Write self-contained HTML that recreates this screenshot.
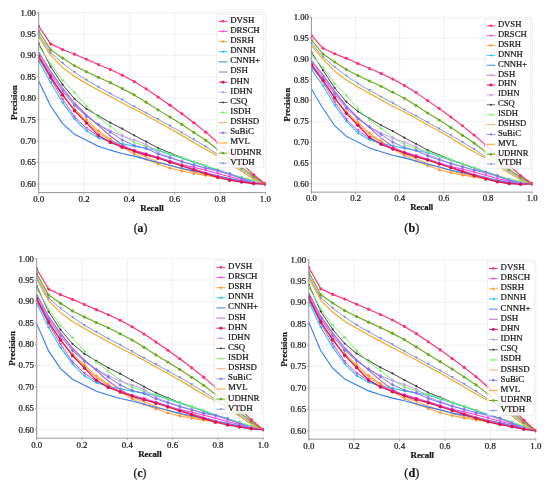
<!DOCTYPE html>
<html><head><meta charset="utf-8"><title>Precision-Recall curves</title>
<style>html,body{margin:0;padding:0;background:#fff}svg{display:block}text{font-family:"Liberation Serif",serif;fill:#111;stroke:#111;stroke-width:0.2px}</style></head><body>
<svg width="550" height="484" viewBox="0 0 550 484">
<rect width="550" height="484" fill="#fff"/>
<g>
<line x1="38.70" y1="12.60" x2="38.70" y2="192.57" stroke="#eaeaea" stroke-width="0.7"/>
<line x1="84.04" y1="12.60" x2="84.04" y2="192.57" stroke="#eaeaea" stroke-width="0.7"/>
<line x1="129.38" y1="12.60" x2="129.38" y2="192.57" stroke="#eaeaea" stroke-width="0.7"/>
<line x1="174.72" y1="12.60" x2="174.72" y2="192.57" stroke="#eaeaea" stroke-width="0.7"/>
<line x1="220.06" y1="12.60" x2="220.06" y2="192.57" stroke="#eaeaea" stroke-width="0.7"/>
<line x1="265.40" y1="12.60" x2="265.40" y2="192.57" stroke="#eaeaea" stroke-width="0.7"/>
<line x1="38.70" y1="184.00" x2="265.40" y2="184.00" stroke="#eaeaea" stroke-width="0.7"/>
<line x1="38.70" y1="162.57" x2="265.40" y2="162.57" stroke="#eaeaea" stroke-width="0.7"/>
<line x1="38.70" y1="141.15" x2="265.40" y2="141.15" stroke="#eaeaea" stroke-width="0.7"/>
<line x1="38.70" y1="119.72" x2="265.40" y2="119.72" stroke="#eaeaea" stroke-width="0.7"/>
<line x1="38.70" y1="98.30" x2="265.40" y2="98.30" stroke="#eaeaea" stroke-width="0.7"/>
<line x1="38.70" y1="76.88" x2="265.40" y2="76.88" stroke="#eaeaea" stroke-width="0.7"/>
<line x1="38.70" y1="55.45" x2="265.40" y2="55.45" stroke="#eaeaea" stroke-width="0.7"/>
<line x1="38.70" y1="34.03" x2="265.40" y2="34.03" stroke="#eaeaea" stroke-width="0.7"/>
<line x1="38.70" y1="12.60" x2="265.40" y2="12.60" stroke="#eaeaea" stroke-width="0.7"/>
<clipPath id="clipa"><rect x="38.50" y="8.60" width="227.20" height="183.97"/></clipPath>
<g clip-path="url(#clipa)">
<polyline points="38.70,57.16 50.63,76.88 62.56,94.01 74.49,110.30 86.43,121.87 98.36,132.58 110.29,140.29 122.22,146.29 134.15,151.86 146.08,157.00 158.02,161.72 169.95,165.57 181.88,169.00 193.81,172.00 205.74,174.57 217.67,176.72 229.61,178.86 241.54,181.00 253.47,182.71 265.40,184.00" fill="none" stroke="#ffa050" stroke-width="1.05" stroke-linejoin="round"/>
<polyline points="38.70,58.45 50.63,77.73 62.56,95.30 74.49,109.01 86.43,119.85 98.36,130.87 110.29,139.22 122.22,147.15 134.15,154.00 146.08,159.36 158.02,163.99 169.95,168.15 181.88,171.14 193.81,173.50 205.74,175.43 217.67,177.36 229.61,179.29 241.54,181.43 253.47,183.14 265.40,184.00" fill="none" stroke="#ff9a2e" stroke-width="1.00" stroke-linejoin="round"/>
<path d="M38.70 56.65L40.50 58.45L38.70 60.25L36.90 58.45Z" fill="#ff9a2e"/>
<path d="M50.63 75.93L52.43 77.73L50.63 79.53L48.83 77.73Z" fill="#ff9a2e"/>
<path d="M62.56 93.50L64.36 95.30L62.56 97.10L60.76 95.30Z" fill="#ff9a2e"/>
<path d="M74.49 107.21L76.29 109.01L74.49 110.81L72.69 109.01Z" fill="#ff9a2e"/>
<path d="M86.43 118.05L88.23 119.85L86.43 121.65L84.63 119.85Z" fill="#ff9a2e"/>
<path d="M98.36 129.07L100.16 130.87L98.36 132.67L96.56 130.87Z" fill="#ff9a2e"/>
<path d="M110.29 137.42L112.09 139.22L110.29 141.02L108.49 139.22Z" fill="#ff9a2e"/>
<path d="M122.22 145.35L124.02 147.15L122.22 148.95L120.42 147.15Z" fill="#ff9a2e"/>
<path d="M134.15 152.20L135.95 154.00L134.15 155.80L132.35 154.00Z" fill="#ff9a2e"/>
<path d="M146.08 157.56L147.88 159.36L146.08 161.16L144.28 159.36Z" fill="#ff9a2e"/>
<path d="M158.02 162.19L159.82 163.99L158.02 165.79L156.22 163.99Z" fill="#ff9a2e"/>
<path d="M169.95 166.35L171.75 168.15L169.95 169.95L168.15 168.15Z" fill="#ff9a2e"/>
<path d="M181.88 169.34L183.68 171.14L181.88 172.94L180.08 171.14Z" fill="#ff9a2e"/>
<path d="M193.81 171.70L195.61 173.50L193.81 175.30L192.01 173.50Z" fill="#ff9a2e"/>
<path d="M205.74 173.63L207.54 175.43L205.74 177.23L203.94 175.43Z" fill="#ff9a2e"/>
<path d="M217.67 175.56L219.47 177.36L217.67 179.16L215.87 177.36Z" fill="#ff9a2e"/>
<path d="M229.61 177.49L231.41 179.29L229.61 181.09L227.81 179.29Z" fill="#ff9a2e"/>
<path d="M241.54 179.63L243.34 181.43L241.54 183.23L239.74 181.43Z" fill="#ff9a2e"/>
<path d="M253.47 181.34L255.27 183.14L253.47 184.94L251.67 183.14Z" fill="#ff9a2e"/>
<path d="M265.40 182.20L267.20 184.00L265.40 185.80L263.60 184.00Z" fill="#ff9a2e"/>
<polyline points="38.70,81.16 50.63,106.01 62.56,123.58 74.49,134.29 86.43,140.29 98.36,146.29 110.29,150.15 122.22,153.58 134.15,156.15 146.08,159.36 158.02,162.57 169.95,165.32 181.88,168.57 193.81,170.89 205.74,173.29 217.67,175.86 229.61,178.43 241.54,181.00 253.47,182.71 265.40,184.00" fill="none" stroke="#2f7bf5" stroke-width="1.10" stroke-linejoin="round"/>
<polyline points="38.70,43.45 50.63,66.59 62.56,84.59 74.49,98.73 86.43,108.80 98.36,115.87 110.29,122.72 122.22,128.72 134.15,135.37 146.08,141.58 158.02,148.01 169.95,152.89 181.88,157.69 193.81,161.89 205.74,166.00 217.67,170.29 229.61,174.27 241.54,178.00 253.47,181.43 265.40,184.00" fill="none" stroke="#3a3a3a" stroke-width="0.95" stroke-linejoin="round"/>
<circle cx="38.70" cy="43.45" r="1.10" fill="#3a3a3a"/>
<circle cx="50.63" cy="66.59" r="1.10" fill="#3a3a3a"/>
<circle cx="62.56" cy="84.59" r="1.10" fill="#3a3a3a"/>
<circle cx="74.49" cy="98.73" r="1.10" fill="#3a3a3a"/>
<circle cx="86.43" cy="108.80" r="1.10" fill="#3a3a3a"/>
<circle cx="98.36" cy="115.87" r="1.10" fill="#3a3a3a"/>
<circle cx="110.29" cy="122.72" r="1.10" fill="#3a3a3a"/>
<circle cx="122.22" cy="128.72" r="1.10" fill="#3a3a3a"/>
<circle cx="134.15" cy="135.37" r="1.10" fill="#3a3a3a"/>
<circle cx="146.08" cy="141.58" r="1.10" fill="#3a3a3a"/>
<circle cx="158.02" cy="148.01" r="1.10" fill="#3a3a3a"/>
<circle cx="169.95" cy="152.89" r="1.10" fill="#3a3a3a"/>
<circle cx="181.88" cy="157.69" r="1.10" fill="#3a3a3a"/>
<circle cx="193.81" cy="161.89" r="1.10" fill="#3a3a3a"/>
<circle cx="205.74" cy="166.00" r="1.10" fill="#3a3a3a"/>
<circle cx="217.67" cy="170.29" r="1.10" fill="#3a3a3a"/>
<circle cx="229.61" cy="174.27" r="1.10" fill="#3a3a3a"/>
<circle cx="241.54" cy="178.00" r="1.10" fill="#3a3a3a"/>
<circle cx="253.47" cy="181.43" r="1.10" fill="#3a3a3a"/>
<circle cx="265.40" cy="184.00" r="1.10" fill="#3a3a3a"/>
<polyline points="38.70,61.02 50.63,82.45 62.56,102.58 74.49,118.87 86.43,130.87 98.36,137.72 110.29,141.58 122.22,143.72 134.15,146.29 146.08,148.43 158.02,150.58 169.95,154.43 181.88,158.29 193.81,162.15 205.74,166.00 217.67,170.29 229.61,174.14 241.54,178.00 253.47,181.43 265.40,184.00" fill="none" stroke="#1fbfff" stroke-width="1.05" stroke-linejoin="round"/>
<path d="M40.06 59.32L40.06 62.72L37.00 61.02Z" fill="#1fbfff"/>
<path d="M51.99 80.75L51.99 84.15L48.93 82.45Z" fill="#1fbfff"/>
<path d="M63.92 100.88L63.92 104.28L60.86 102.58Z" fill="#1fbfff"/>
<path d="M75.85 117.17L75.85 120.57L72.79 118.87Z" fill="#1fbfff"/>
<path d="M87.79 129.17L87.79 132.57L84.73 130.87Z" fill="#1fbfff"/>
<path d="M99.72 136.02L99.72 139.42L96.66 137.72Z" fill="#1fbfff"/>
<path d="M111.65 139.88L111.65 143.28L108.59 141.58Z" fill="#1fbfff"/>
<path d="M123.58 142.02L123.58 145.42L120.52 143.72Z" fill="#1fbfff"/>
<path d="M135.51 144.59L135.51 147.99L132.45 146.29Z" fill="#1fbfff"/>
<path d="M147.44 146.73L147.44 150.13L144.38 148.43Z" fill="#1fbfff"/>
<path d="M159.38 148.88L159.38 152.28L156.32 150.58Z" fill="#1fbfff"/>
<path d="M171.31 152.73L171.31 156.13L168.25 154.43Z" fill="#1fbfff"/>
<path d="M183.24 156.59L183.24 159.99L180.18 158.29Z" fill="#1fbfff"/>
<path d="M195.17 160.45L195.17 163.85L192.11 162.15Z" fill="#1fbfff"/>
<path d="M207.10 164.30L207.10 167.70L204.04 166.00Z" fill="#1fbfff"/>
<path d="M219.03 168.59L219.03 171.99L215.97 170.29Z" fill="#1fbfff"/>
<path d="M230.97 172.44L230.97 175.84L227.91 174.14Z" fill="#1fbfff"/>
<path d="M242.90 176.30L242.90 179.70L239.84 178.00Z" fill="#1fbfff"/>
<path d="M254.83 179.73L254.83 183.13L251.77 181.43Z" fill="#1fbfff"/>
<path d="M266.76 182.30L266.76 185.70L263.70 184.00Z" fill="#1fbfff"/>
<polyline points="38.70,46.02 50.63,64.02 62.56,80.30 74.49,92.52 86.43,106.01 98.36,117.15 110.29,126.15 122.22,135.15 134.15,142.44 146.08,146.29 158.02,149.72 169.95,153.83 181.88,157.69 193.81,161.72 205.74,165.57 217.67,169.86 229.61,173.72 241.54,177.14 253.47,180.57 265.40,184.00" fill="none" stroke="#77ee66" stroke-width="0.95" stroke-linejoin="round"/>
<circle cx="38.70" cy="46.02" r="1.30" fill="#77ee66"/>
<circle cx="50.63" cy="64.02" r="1.30" fill="#77ee66"/>
<circle cx="62.56" cy="80.30" r="1.30" fill="#77ee66"/>
<circle cx="74.49" cy="92.52" r="1.30" fill="#77ee66"/>
<circle cx="86.43" cy="106.01" r="1.30" fill="#77ee66"/>
<circle cx="98.36" cy="117.15" r="1.30" fill="#77ee66"/>
<circle cx="110.29" cy="126.15" r="1.30" fill="#77ee66"/>
<circle cx="122.22" cy="135.15" r="1.30" fill="#77ee66"/>
<circle cx="134.15" cy="142.44" r="1.30" fill="#77ee66"/>
<circle cx="146.08" cy="146.29" r="1.30" fill="#77ee66"/>
<circle cx="158.02" cy="149.72" r="1.30" fill="#77ee66"/>
<circle cx="169.95" cy="153.83" r="1.30" fill="#77ee66"/>
<circle cx="181.88" cy="157.69" r="1.30" fill="#77ee66"/>
<circle cx="193.81" cy="161.72" r="1.30" fill="#77ee66"/>
<circle cx="205.74" cy="165.57" r="1.30" fill="#77ee66"/>
<circle cx="217.67" cy="169.86" r="1.30" fill="#77ee66"/>
<circle cx="229.61" cy="173.72" r="1.30" fill="#77ee66"/>
<circle cx="241.54" cy="177.14" r="1.30" fill="#77ee66"/>
<circle cx="253.47" cy="180.57" r="1.30" fill="#77ee66"/>
<circle cx="265.40" cy="184.00" r="1.30" fill="#77ee66"/>
<polyline points="38.70,57.59 50.63,78.59 62.56,99.16 74.49,116.73 86.43,128.30 98.36,136.01 110.29,141.58 122.22,146.29 134.15,150.15 146.08,153.58 158.02,157.22 169.95,161.08 181.88,164.72 193.81,167.29 205.74,170.29 217.67,173.50 229.61,176.72 241.54,179.72 253.47,182.29 265.40,184.00" fill="none" stroke="#ff33dd" stroke-width="1.00" stroke-linejoin="round"/>
<path d="M37.20 56.39L40.20 56.39L38.70 59.09Z" fill="#ff33dd"/>
<path d="M49.13 77.39L52.13 77.39L50.63 80.09Z" fill="#ff33dd"/>
<path d="M61.06 97.96L64.06 97.96L62.56 100.66Z" fill="#ff33dd"/>
<path d="M72.99 115.53L75.99 115.53L74.49 118.23Z" fill="#ff33dd"/>
<path d="M84.93 127.10L87.93 127.10L86.43 129.80Z" fill="#ff33dd"/>
<path d="M96.86 134.81L99.86 134.81L98.36 137.51Z" fill="#ff33dd"/>
<path d="M108.79 140.38L111.79 140.38L110.29 143.08Z" fill="#ff33dd"/>
<path d="M120.72 145.09L123.72 145.09L122.22 147.79Z" fill="#ff33dd"/>
<path d="M132.65 148.95L135.65 148.95L134.15 151.65Z" fill="#ff33dd"/>
<path d="M144.58 152.38L147.58 152.38L146.08 155.08Z" fill="#ff33dd"/>
<path d="M156.52 156.02L159.52 156.02L158.02 158.72Z" fill="#ff33dd"/>
<path d="M168.45 159.88L171.45 159.88L169.95 162.58Z" fill="#ff33dd"/>
<path d="M180.38 163.52L183.38 163.52L181.88 166.22Z" fill="#ff33dd"/>
<path d="M192.31 166.09L195.31 166.09L193.81 168.79Z" fill="#ff33dd"/>
<path d="M204.24 169.09L207.24 169.09L205.74 171.79Z" fill="#ff33dd"/>
<path d="M216.17 172.30L219.17 172.30L217.67 175.00Z" fill="#ff33dd"/>
<path d="M228.11 175.52L231.11 175.52L229.61 178.22Z" fill="#ff33dd"/>
<path d="M240.04 178.52L243.04 178.52L241.54 181.22Z" fill="#ff33dd"/>
<path d="M251.97 181.09L254.97 181.09L253.47 183.79Z" fill="#ff33dd"/>
<path d="M263.90 182.80L266.90 182.80L265.40 185.50Z" fill="#ff33dd"/>
<polyline points="38.70,53.31 50.63,72.59 62.56,89.30 74.49,104.30 86.43,115.44 98.36,124.44 110.29,130.87 122.22,136.01 134.15,139.99 146.08,144.58 158.02,152.72 169.95,157.00 181.88,161.29 193.81,164.72 205.74,168.15 217.67,171.14 229.61,174.57 241.54,178.43 253.47,182.29 265.40,184.00" fill="none" stroke="#c79bf7" stroke-width="1.00" stroke-linejoin="round"/>
<path d="M38.70 51.51L40.50 53.31L38.70 55.11L36.90 53.31Z" fill="#c79bf7"/>
<path d="M50.63 70.79L52.43 72.59L50.63 74.39L48.83 72.59Z" fill="#c79bf7"/>
<path d="M62.56 87.50L64.36 89.30L62.56 91.10L60.76 89.30Z" fill="#c79bf7"/>
<path d="M74.49 102.50L76.29 104.30L74.49 106.10L72.69 104.30Z" fill="#c79bf7"/>
<path d="M86.43 113.64L88.23 115.44L86.43 117.24L84.63 115.44Z" fill="#c79bf7"/>
<path d="M98.36 122.64L100.16 124.44L98.36 126.24L96.56 124.44Z" fill="#c79bf7"/>
<path d="M110.29 129.07L112.09 130.87L110.29 132.67L108.49 130.87Z" fill="#c79bf7"/>
<path d="M122.22 134.21L124.02 136.01L122.22 137.81L120.42 136.01Z" fill="#c79bf7"/>
<path d="M134.15 138.19L135.95 139.99L134.15 141.79L132.35 139.99Z" fill="#c79bf7"/>
<path d="M146.08 142.78L147.88 144.58L146.08 146.38L144.28 144.58Z" fill="#c79bf7"/>
<path d="M158.02 150.92L159.82 152.72L158.02 154.52L156.22 152.72Z" fill="#c79bf7"/>
<path d="M169.95 155.20L171.75 157.00L169.95 158.80L168.15 157.00Z" fill="#c79bf7"/>
<path d="M181.88 159.49L183.68 161.29L181.88 163.09L180.08 161.29Z" fill="#c79bf7"/>
<path d="M193.81 162.92L195.61 164.72L193.81 166.52L192.01 164.72Z" fill="#c79bf7"/>
<path d="M205.74 166.35L207.54 168.15L205.74 169.95L203.94 168.15Z" fill="#c79bf7"/>
<path d="M217.67 169.34L219.47 171.14L217.67 172.94L215.87 171.14Z" fill="#c79bf7"/>
<path d="M229.61 172.77L231.41 174.57L229.61 176.37L227.81 174.57Z" fill="#c79bf7"/>
<path d="M241.54 176.63L243.34 178.43L241.54 180.23L239.74 178.43Z" fill="#c79bf7"/>
<path d="M253.47 180.49L255.27 182.29L253.47 184.09L251.67 182.29Z" fill="#c79bf7"/>
<path d="M265.40 182.20L267.20 184.00L265.40 185.80L263.60 184.00Z" fill="#c79bf7"/>
<polyline points="38.70,52.02 50.63,71.30 62.56,88.02 74.49,103.01 86.43,115.01 98.36,125.30 110.29,136.01 122.22,144.58 134.15,151.61 146.08,154.86 158.02,157.43 169.95,161.29 181.88,165.15 193.81,169.00 205.74,172.43 217.67,175.86 229.61,179.29 241.54,181.86 253.47,183.57 265.40,184.00" fill="none" stroke="#b060cc" stroke-width="1.10" stroke-linejoin="round"/>
<polyline points="38.70,55.45 50.63,74.30 62.56,91.02 74.49,105.58 86.43,116.30 98.36,124.44 110.29,132.15 122.22,139.99 134.15,145.44 146.08,148.43 158.02,154.00 169.95,157.86 181.88,161.72 193.81,164.97 205.74,168.15 217.67,170.29 229.61,173.72 241.54,178.60 253.47,183.14 265.40,184.00" fill="none" stroke="#7a7af0" stroke-width="1.00" stroke-linejoin="round"/>
<path d="M38.70 53.55L39.55 54.59L40.60 55.45L39.55 56.30L38.70 57.35L37.85 56.30L36.80 55.45L37.85 54.59Z" fill="#7a7af0"/>
<path d="M50.63 72.40L51.49 73.45L52.53 74.30L51.49 75.16L50.63 76.20L49.78 75.16L48.73 74.30L49.78 73.45Z" fill="#7a7af0"/>
<path d="M62.56 89.12L63.42 90.16L64.46 91.02L63.42 91.87L62.56 92.92L61.71 91.87L60.66 91.02L61.71 90.16Z" fill="#7a7af0"/>
<path d="M74.49 103.68L75.35 104.73L76.39 105.58L75.35 106.44L74.49 107.48L73.64 106.44L72.59 105.58L73.64 104.73Z" fill="#7a7af0"/>
<path d="M86.43 114.40L87.28 115.44L88.33 116.30L87.28 117.15L86.43 118.20L85.57 117.15L84.53 116.30L85.57 115.44Z" fill="#7a7af0"/>
<path d="M98.36 122.54L99.21 123.58L100.26 124.44L99.21 125.29L98.36 126.34L97.50 125.29L96.46 124.44L97.50 123.58Z" fill="#7a7af0"/>
<path d="M110.29 130.25L111.14 131.30L112.19 132.15L111.14 133.01L110.29 134.05L109.43 133.01L108.39 132.15L109.43 131.30Z" fill="#7a7af0"/>
<path d="M122.22 138.09L123.08 139.14L124.12 139.99L123.08 140.85L122.22 141.89L121.37 140.85L120.32 139.99L121.37 139.14Z" fill="#7a7af0"/>
<path d="M134.15 143.54L135.01 144.58L136.05 145.44L135.01 146.29L134.15 147.34L133.30 146.29L132.25 145.44L133.30 144.58Z" fill="#7a7af0"/>
<path d="M146.08 146.53L146.94 147.58L147.98 148.43L146.94 149.29L146.08 150.33L145.23 149.29L144.18 148.43L145.23 147.58Z" fill="#7a7af0"/>
<path d="M158.02 152.10L158.87 153.15L159.92 154.00L158.87 154.86L158.02 155.90L157.16 154.86L156.12 154.00L157.16 153.15Z" fill="#7a7af0"/>
<path d="M169.95 155.96L170.80 157.01L171.85 157.86L170.80 158.72L169.95 159.76L169.09 158.72L168.05 157.86L169.09 157.01Z" fill="#7a7af0"/>
<path d="M181.88 159.82L182.73 160.86L183.78 161.72L182.73 162.57L181.88 163.62L181.02 162.57L179.98 161.72L181.02 160.86Z" fill="#7a7af0"/>
<path d="M193.81 163.07L194.67 164.12L195.71 164.97L194.67 165.83L193.81 166.87L192.96 165.83L191.91 164.97L192.96 164.12Z" fill="#7a7af0"/>
<path d="M205.74 166.25L206.60 167.29L207.64 168.15L206.60 169.00L205.74 170.05L204.89 169.00L203.84 168.15L204.89 167.29Z" fill="#7a7af0"/>
<path d="M217.67 168.39L218.53 169.43L219.57 170.29L218.53 171.14L217.67 172.19L216.82 171.14L215.77 170.29L216.82 169.43Z" fill="#7a7af0"/>
<path d="M229.61 171.82L230.46 172.86L231.51 173.72L230.46 174.57L229.61 175.62L228.75 174.57L227.71 173.72L228.75 172.86Z" fill="#7a7af0"/>
<path d="M241.54 176.70L242.39 177.75L243.44 178.60L242.39 179.46L241.54 180.50L240.68 179.46L239.64 178.60L240.68 177.75Z" fill="#7a7af0"/>
<path d="M253.47 181.24L254.32 182.29L255.37 183.14L254.32 184.00L253.47 185.04L252.61 184.00L251.57 183.14L252.61 182.29Z" fill="#7a7af0"/>
<path d="M265.40 182.10L266.25 183.15L267.30 184.00L266.25 184.85L265.40 185.90L264.54 184.85L263.50 184.00L264.54 183.15Z" fill="#7a7af0"/>
<polyline points="38.70,56.31 50.63,76.88 62.56,94.87 74.49,110.73 86.43,122.94 98.36,135.37 110.29,142.44 122.22,147.15 134.15,151.01 146.08,154.86 158.02,158.29 169.95,162.15 181.88,166.00 193.81,169.86 205.74,173.72 217.67,177.36 229.61,180.14 241.54,182.11 253.47,183.57 265.40,184.00" fill="none" stroke="#e0104f" stroke-width="1.15" stroke-linejoin="round"/>
<circle cx="38.70" cy="56.31" r="1.75" fill="#e0104f"/>
<circle cx="50.63" cy="76.88" r="1.75" fill="#e0104f"/>
<circle cx="62.56" cy="94.87" r="1.75" fill="#e0104f"/>
<circle cx="74.49" cy="110.73" r="1.75" fill="#e0104f"/>
<circle cx="86.43" cy="122.94" r="1.75" fill="#e0104f"/>
<circle cx="98.36" cy="135.37" r="1.75" fill="#e0104f"/>
<circle cx="110.29" cy="142.44" r="1.75" fill="#e0104f"/>
<circle cx="122.22" cy="147.15" r="1.75" fill="#e0104f"/>
<circle cx="134.15" cy="151.01" r="1.75" fill="#e0104f"/>
<circle cx="146.08" cy="154.86" r="1.75" fill="#e0104f"/>
<circle cx="158.02" cy="158.29" r="1.75" fill="#e0104f"/>
<circle cx="169.95" cy="162.15" r="1.75" fill="#e0104f"/>
<circle cx="181.88" cy="166.00" r="1.75" fill="#e0104f"/>
<circle cx="193.81" cy="169.86" r="1.75" fill="#e0104f"/>
<circle cx="205.74" cy="173.72" r="1.75" fill="#e0104f"/>
<circle cx="217.67" cy="177.36" r="1.75" fill="#e0104f"/>
<circle cx="229.61" cy="180.14" r="1.75" fill="#e0104f"/>
<circle cx="241.54" cy="182.11" r="1.75" fill="#e0104f"/>
<circle cx="253.47" cy="183.57" r="1.75" fill="#e0104f"/>
<circle cx="265.40" cy="184.00" r="1.75" fill="#e0104f"/>
<polyline points="38.70,36.60 50.63,55.45 62.56,67.45 74.49,76.45 86.43,83.47 98.36,90.16 110.29,96.59 122.22,103.01 134.15,109.01 146.08,115.23 158.02,122.04 169.95,128.42 181.88,135.37 193.81,142.44 205.74,149.51 217.67,156.02 229.61,163.43 241.54,171.14 253.47,178.99 265.40,184.00" fill="none" stroke="#f5a81e" stroke-width="1.20" stroke-linejoin="round"/>
<polyline points="38.70,34.45 50.63,52.88 62.56,63.16 74.49,72.16 86.43,80.05 98.36,86.86 110.29,93.59 122.22,99.76 134.15,106.44 146.08,112.87 158.02,119.30 169.95,125.94 181.88,132.58 193.81,139.44 205.74,146.72 217.67,154.43 229.61,161.72 241.54,169.43 253.47,177.57 265.40,184.00" fill="none" stroke="#7b92d8" stroke-width="0.95" stroke-linejoin="round"/>
<path d="M37.20 33.25L40.20 33.25L38.70 35.95Z" fill="#7b92d8"/>
<path d="M49.13 51.68L52.13 51.68L50.63 54.38Z" fill="#7b92d8"/>
<path d="M61.06 61.96L64.06 61.96L62.56 64.66Z" fill="#7b92d8"/>
<path d="M72.99 70.96L75.99 70.96L74.49 73.66Z" fill="#7b92d8"/>
<path d="M84.93 78.85L87.93 78.85L86.43 81.55Z" fill="#7b92d8"/>
<path d="M96.86 85.66L99.86 85.66L98.36 88.36Z" fill="#7b92d8"/>
<path d="M108.79 92.39L111.79 92.39L110.29 95.09Z" fill="#7b92d8"/>
<path d="M120.72 98.56L123.72 98.56L122.22 101.26Z" fill="#7b92d8"/>
<path d="M132.65 105.24L135.65 105.24L134.15 107.94Z" fill="#7b92d8"/>
<path d="M144.58 111.67L147.58 111.67L146.08 114.37Z" fill="#7b92d8"/>
<path d="M156.52 118.10L159.52 118.10L158.02 120.80Z" fill="#7b92d8"/>
<path d="M168.45 124.74L171.45 124.74L169.95 127.44Z" fill="#7b92d8"/>
<path d="M180.38 131.38L183.38 131.38L181.88 134.08Z" fill="#7b92d8"/>
<path d="M192.31 138.24L195.31 138.24L193.81 140.94Z" fill="#7b92d8"/>
<path d="M204.24 145.52L207.24 145.52L205.74 148.22Z" fill="#7b92d8"/>
<path d="M216.17 153.23L219.17 153.23L217.67 155.93Z" fill="#7b92d8"/>
<path d="M228.11 160.52L231.11 160.52L229.61 163.22Z" fill="#7b92d8"/>
<path d="M240.04 168.23L243.04 168.23L241.54 170.93Z" fill="#7b92d8"/>
<path d="M251.97 176.37L254.97 176.37L253.47 179.07Z" fill="#7b92d8"/>
<path d="M263.90 182.80L266.90 182.80L265.40 185.50Z" fill="#7b92d8"/>
<polyline points="38.70,31.03 50.63,49.88 62.56,58.02 74.49,65.73 86.43,71.73 98.36,77.30 110.29,82.66 122.22,88.57 134.15,94.87 146.08,102.16 158.02,109.87 169.95,116.94 181.88,124.44 193.81,132.37 205.74,140.29 217.67,149.51 229.61,158.29 241.54,167.29 253.47,176.29 265.40,184.00" fill="none" stroke="#6aaa1e" stroke-width="1.15" stroke-linejoin="round"/>
<circle cx="38.70" cy="31.03" r="1.55" fill="#6aaa1e"/>
<circle cx="50.63" cy="49.88" r="1.55" fill="#6aaa1e"/>
<circle cx="62.56" cy="58.02" r="1.55" fill="#6aaa1e"/>
<circle cx="74.49" cy="65.73" r="1.55" fill="#6aaa1e"/>
<circle cx="86.43" cy="71.73" r="1.55" fill="#6aaa1e"/>
<circle cx="98.36" cy="77.30" r="1.55" fill="#6aaa1e"/>
<circle cx="110.29" cy="82.66" r="1.55" fill="#6aaa1e"/>
<circle cx="122.22" cy="88.57" r="1.55" fill="#6aaa1e"/>
<circle cx="134.15" cy="94.87" r="1.55" fill="#6aaa1e"/>
<circle cx="146.08" cy="102.16" r="1.55" fill="#6aaa1e"/>
<circle cx="158.02" cy="109.87" r="1.55" fill="#6aaa1e"/>
<circle cx="169.95" cy="116.94" r="1.55" fill="#6aaa1e"/>
<circle cx="181.88" cy="124.44" r="1.55" fill="#6aaa1e"/>
<circle cx="193.81" cy="132.37" r="1.55" fill="#6aaa1e"/>
<circle cx="205.74" cy="140.29" r="1.55" fill="#6aaa1e"/>
<circle cx="217.67" cy="149.51" r="1.55" fill="#6aaa1e"/>
<circle cx="229.61" cy="158.29" r="1.55" fill="#6aaa1e"/>
<circle cx="241.54" cy="167.29" r="1.55" fill="#6aaa1e"/>
<circle cx="253.47" cy="176.29" r="1.55" fill="#6aaa1e"/>
<circle cx="265.40" cy="184.00" r="1.55" fill="#6aaa1e"/>
<polyline points="38.70,26.31 50.63,43.88 62.56,49.45 74.49,54.16 86.43,59.31 98.36,64.45 110.29,69.59 122.22,75.16 134.15,81.59 146.08,88.87 158.02,97.01 169.95,105.16 181.88,113.73 193.81,122.72 205.74,132.15 217.67,142.44 229.61,153.15 241.54,163.43 253.47,174.57 265.40,184.00" fill="none" stroke="#ff2d78" stroke-width="1.15" stroke-linejoin="round"/>
<circle cx="38.70" cy="26.31" r="1.55" fill="#ff2d78"/>
<circle cx="50.63" cy="43.88" r="1.55" fill="#ff2d78"/>
<circle cx="62.56" cy="49.45" r="1.55" fill="#ff2d78"/>
<circle cx="74.49" cy="54.16" r="1.55" fill="#ff2d78"/>
<circle cx="86.43" cy="59.31" r="1.55" fill="#ff2d78"/>
<circle cx="98.36" cy="64.45" r="1.55" fill="#ff2d78"/>
<circle cx="110.29" cy="69.59" r="1.55" fill="#ff2d78"/>
<circle cx="122.22" cy="75.16" r="1.55" fill="#ff2d78"/>
<circle cx="134.15" cy="81.59" r="1.55" fill="#ff2d78"/>
<circle cx="146.08" cy="88.87" r="1.55" fill="#ff2d78"/>
<circle cx="158.02" cy="97.01" r="1.55" fill="#ff2d78"/>
<circle cx="169.95" cy="105.16" r="1.55" fill="#ff2d78"/>
<circle cx="181.88" cy="113.73" r="1.55" fill="#ff2d78"/>
<circle cx="193.81" cy="122.72" r="1.55" fill="#ff2d78"/>
<circle cx="205.74" cy="132.15" r="1.55" fill="#ff2d78"/>
<circle cx="217.67" cy="142.44" r="1.55" fill="#ff2d78"/>
<circle cx="229.61" cy="153.15" r="1.55" fill="#ff2d78"/>
<circle cx="241.54" cy="163.43" r="1.55" fill="#ff2d78"/>
<circle cx="253.47" cy="174.57" r="1.55" fill="#ff2d78"/>
<circle cx="265.40" cy="184.00" r="1.55" fill="#ff2d78"/>
</g>
<line x1="38.70" y1="12.10" x2="38.70" y2="193.17" stroke="#8c8c8c" stroke-width="0.9"/>
<line x1="38.10" y1="192.57" x2="265.90" y2="192.57" stroke="#8c8c8c" stroke-width="0.9"/>
<line x1="38.70" y1="192.57" x2="38.70" y2="194.37" stroke="#9a9a9a" stroke-width="0.8"/>
<text x="38.70" y="202.17" font-size="8.85" text-anchor="middle">0.0</text>
<line x1="84.04" y1="192.57" x2="84.04" y2="194.37" stroke="#9a9a9a" stroke-width="0.8"/>
<text x="84.04" y="202.17" font-size="8.85" text-anchor="middle">0.2</text>
<line x1="129.38" y1="192.57" x2="129.38" y2="194.37" stroke="#9a9a9a" stroke-width="0.8"/>
<text x="129.38" y="202.17" font-size="8.85" text-anchor="middle">0.4</text>
<line x1="174.72" y1="192.57" x2="174.72" y2="194.37" stroke="#9a9a9a" stroke-width="0.8"/>
<text x="174.72" y="202.17" font-size="8.85" text-anchor="middle">0.6</text>
<line x1="220.06" y1="192.57" x2="220.06" y2="194.37" stroke="#9a9a9a" stroke-width="0.8"/>
<text x="220.06" y="202.17" font-size="8.85" text-anchor="middle">0.8</text>
<line x1="265.40" y1="192.57" x2="265.40" y2="194.37" stroke="#9a9a9a" stroke-width="0.8"/>
<text x="265.40" y="202.17" font-size="8.85" text-anchor="middle">1.0</text>
<line x1="36.90" y1="184.00" x2="38.70" y2="184.00" stroke="#9a9a9a" stroke-width="0.8"/>
<text x="36.00" y="186.90" font-size="8.85" text-anchor="end">0.60</text>
<line x1="36.90" y1="162.57" x2="38.70" y2="162.57" stroke="#9a9a9a" stroke-width="0.8"/>
<text x="36.00" y="165.47" font-size="8.85" text-anchor="end">0.65</text>
<line x1="36.90" y1="141.15" x2="38.70" y2="141.15" stroke="#9a9a9a" stroke-width="0.8"/>
<text x="36.00" y="144.05" font-size="8.85" text-anchor="end">0.70</text>
<line x1="36.90" y1="119.72" x2="38.70" y2="119.72" stroke="#9a9a9a" stroke-width="0.8"/>
<text x="36.00" y="122.62" font-size="8.85" text-anchor="end">0.75</text>
<line x1="36.90" y1="98.30" x2="38.70" y2="98.30" stroke="#9a9a9a" stroke-width="0.8"/>
<text x="36.00" y="101.20" font-size="8.85" text-anchor="end">0.80</text>
<line x1="36.90" y1="76.88" x2="38.70" y2="76.88" stroke="#9a9a9a" stroke-width="0.8"/>
<text x="36.00" y="79.78" font-size="8.85" text-anchor="end">0.85</text>
<line x1="36.90" y1="55.45" x2="38.70" y2="55.45" stroke="#9a9a9a" stroke-width="0.8"/>
<text x="36.00" y="58.35" font-size="8.85" text-anchor="end">0.90</text>
<line x1="36.90" y1="34.03" x2="38.70" y2="34.03" stroke="#9a9a9a" stroke-width="0.8"/>
<text x="36.00" y="36.93" font-size="8.85" text-anchor="end">0.95</text>
<line x1="36.90" y1="12.60" x2="38.70" y2="12.60" stroke="#9a9a9a" stroke-width="0.8"/>
<text x="36.00" y="15.50" font-size="8.85" text-anchor="end">1.00</text>
<text x="152.05" y="211.37" font-size="8.85" font-weight="bold" text-anchor="middle" fill="#111">Recall</text>
<text transform="translate(17.10,102.59) rotate(-90)" font-size="8.85" font-weight="bold" text-anchor="middle" fill="#111">Precision</text>
<rect x="216.90" y="14.40" width="46.70" height="153.40" fill="#fff" fill-opacity="0.84" stroke="#e4e4e4" stroke-width="0.6"/>
<line x1="218.60" y1="21.30" x2="227.40" y2="21.30" stroke="#ff2d78" stroke-width="0.98"/>
<circle cx="223.00" cy="21.30" r="1.32" fill="#ff2d78"/>
<text x="230.20" y="22.75" font-size="8.85">DVSH</text>
<line x1="218.60" y1="31.44" x2="227.40" y2="31.44" stroke="#ff33dd" stroke-width="0.85"/>
<path d="M221.72 30.42L224.28 30.42L223.00 32.71Z" fill="#ff33dd"/>
<text x="230.20" y="32.89" font-size="8.85">DRSCH</text>
<line x1="218.60" y1="41.58" x2="227.40" y2="41.58" stroke="#ff9a2e" stroke-width="0.85"/>
<path d="M223.00 40.05L224.53 41.58L223.00 43.11L221.47 41.58Z" fill="#ff9a2e"/>
<text x="230.20" y="43.03" font-size="8.85">DSRH</text>
<line x1="218.60" y1="51.72" x2="227.40" y2="51.72" stroke="#1fbfff" stroke-width="0.89"/>
<path d="M224.16 50.28L224.16 53.17L221.56 51.72Z" fill="#1fbfff"/>
<text x="230.20" y="53.17" font-size="8.85">DNNH</text>
<line x1="218.60" y1="61.86" x2="227.40" y2="61.86" stroke="#2f7bf5" stroke-width="0.94"/>
<text x="230.20" y="63.31" font-size="8.85">CNNH+</text>
<line x1="218.60" y1="72.00" x2="227.40" y2="72.00" stroke="#b060cc" stroke-width="0.94"/>
<text x="230.20" y="73.45" font-size="8.85">DSH</text>
<line x1="218.60" y1="82.14" x2="227.40" y2="82.14" stroke="#e0104f" stroke-width="0.98"/>
<circle cx="223.00" cy="82.14" r="1.49" fill="#e0104f"/>
<text x="230.20" y="83.59" font-size="8.85">DHN</text>
<line x1="218.60" y1="92.28" x2="227.40" y2="92.28" stroke="#c79bf7" stroke-width="0.85"/>
<path d="M223.00 90.75L224.53 92.28L223.00 93.81L221.47 92.28Z" fill="#c79bf7"/>
<text x="230.20" y="93.73" font-size="8.85">IDHN</text>
<line x1="218.60" y1="102.42" x2="227.40" y2="102.42" stroke="#3a3a3a" stroke-width="0.81"/>
<circle cx="223.00" cy="102.42" r="0.94" fill="#3a3a3a"/>
<text x="230.20" y="103.87" font-size="8.85">CSQ</text>
<line x1="218.60" y1="112.56" x2="227.40" y2="112.56" stroke="#77ee66" stroke-width="0.81"/>
<circle cx="223.00" cy="112.56" r="1.10" fill="#77ee66"/>
<text x="230.20" y="114.01" font-size="8.85">ISDH</text>
<line x1="218.60" y1="122.70" x2="227.40" y2="122.70" stroke="#ffa050" stroke-width="0.89"/>
<text x="230.20" y="124.15" font-size="8.85">DSHSD</text>
<line x1="218.60" y1="132.84" x2="227.40" y2="132.84" stroke="#7a7af0" stroke-width="0.85"/>
<path d="M223.00 131.22L223.73 132.11L224.62 132.84L223.73 133.57L223.00 134.46L222.27 133.57L221.38 132.84L222.27 132.11Z" fill="#7a7af0"/>
<text x="230.20" y="134.29" font-size="8.85">SuBiC</text>
<line x1="218.60" y1="142.98" x2="227.40" y2="142.98" stroke="#f5a81e" stroke-width="1.02"/>
<text x="230.20" y="144.43" font-size="8.85">MVL</text>
<line x1="218.60" y1="153.12" x2="227.40" y2="153.12" stroke="#6aaa1e" stroke-width="0.98"/>
<circle cx="223.00" cy="153.12" r="1.32" fill="#6aaa1e"/>
<text x="230.20" y="154.57" font-size="8.85">UDHNR</text>
<line x1="218.60" y1="163.26" x2="227.40" y2="163.26" stroke="#7b92d8" stroke-width="0.81"/>
<path d="M221.72 162.24L224.28 162.24L223.00 164.53Z" fill="#7b92d8"/>
<text x="230.20" y="164.71" font-size="8.85">VTDH</text>
<text x="140.50" y="231.80" font-size="11.6" text-anchor="middle" fill="#111">(<tspan font-weight="bold">a</tspan>)</text>
</g>
<g>
<line x1="311.40" y1="17.30" x2="311.40" y2="192.13" stroke="#eaeaea" stroke-width="0.7"/>
<line x1="355.56" y1="17.30" x2="355.56" y2="192.13" stroke="#eaeaea" stroke-width="0.7"/>
<line x1="399.72" y1="17.30" x2="399.72" y2="192.13" stroke="#eaeaea" stroke-width="0.7"/>
<line x1="443.88" y1="17.30" x2="443.88" y2="192.13" stroke="#eaeaea" stroke-width="0.7"/>
<line x1="488.04" y1="17.30" x2="488.04" y2="192.13" stroke="#eaeaea" stroke-width="0.7"/>
<line x1="532.20" y1="17.30" x2="532.20" y2="192.13" stroke="#eaeaea" stroke-width="0.7"/>
<line x1="311.40" y1="183.80" x2="532.20" y2="183.80" stroke="#eaeaea" stroke-width="0.7"/>
<line x1="311.40" y1="162.99" x2="532.20" y2="162.99" stroke="#eaeaea" stroke-width="0.7"/>
<line x1="311.40" y1="142.18" x2="532.20" y2="142.18" stroke="#eaeaea" stroke-width="0.7"/>
<line x1="311.40" y1="121.36" x2="532.20" y2="121.36" stroke="#eaeaea" stroke-width="0.7"/>
<line x1="311.40" y1="100.55" x2="532.20" y2="100.55" stroke="#eaeaea" stroke-width="0.7"/>
<line x1="311.40" y1="79.74" x2="532.20" y2="79.74" stroke="#eaeaea" stroke-width="0.7"/>
<line x1="311.40" y1="58.92" x2="532.20" y2="58.92" stroke="#eaeaea" stroke-width="0.7"/>
<line x1="311.40" y1="38.11" x2="532.20" y2="38.11" stroke="#eaeaea" stroke-width="0.7"/>
<line x1="311.40" y1="17.30" x2="532.20" y2="17.30" stroke="#eaeaea" stroke-width="0.7"/>
<clipPath id="clipb"><rect x="311.20" y="13.30" width="221.30" height="178.83"/></clipPath>
<g clip-path="url(#clipb)">
<polyline points="311.40,65.58 323.02,80.24 334.64,96.98 346.26,112.88 357.88,124.21 369.51,134.70 381.13,142.28 392.75,148.20 404.37,153.70 415.99,158.78 427.61,163.45 439.23,167.28 450.85,170.70 462.47,173.70 474.09,176.29 485.72,178.45 497.34,180.62 508.96,182.56 520.58,183.43 532.20,183.80" fill="none" stroke="#ffa050" stroke-width="1.02" stroke-linejoin="round"/>
<polyline points="311.40,66.83 323.02,81.07 334.64,98.23 346.26,111.64 357.88,122.25 369.51,133.04 381.13,141.24 392.75,149.03 404.37,155.78 415.99,161.07 427.61,165.65 439.23,169.78 450.85,172.78 462.47,175.16 474.09,177.12 485.72,179.08 497.34,181.04 508.96,182.97 520.58,183.84 532.20,183.80" fill="none" stroke="#ff9a2e" stroke-width="0.97" stroke-linejoin="round"/>
<path d="M311.40 65.08L313.15 66.83L311.40 68.59L309.65 66.83Z" fill="#ff9a2e"/>
<path d="M323.02 79.32L324.77 81.07L323.02 82.83L321.27 81.07Z" fill="#ff9a2e"/>
<path d="M334.64 96.47L336.40 98.23L334.64 99.98L332.89 98.23Z" fill="#ff9a2e"/>
<path d="M346.26 109.88L348.02 111.64L346.26 113.39L344.51 111.64Z" fill="#ff9a2e"/>
<path d="M357.88 120.50L359.64 122.25L357.88 124.01L356.13 122.25Z" fill="#ff9a2e"/>
<path d="M369.51 131.29L371.26 133.04L369.51 134.79L367.75 133.04Z" fill="#ff9a2e"/>
<path d="M381.13 139.49L382.88 141.24L381.13 143.00L379.37 141.24Z" fill="#ff9a2e"/>
<path d="M392.75 147.28L394.50 149.03L392.75 150.79L390.99 149.03Z" fill="#ff9a2e"/>
<path d="M404.37 154.03L406.12 155.78L404.37 157.53L402.62 155.78Z" fill="#ff9a2e"/>
<path d="M415.99 159.32L417.74 161.07L415.99 162.82L414.24 161.07Z" fill="#ff9a2e"/>
<path d="M427.61 163.90L429.36 165.65L427.61 167.41L425.86 165.65Z" fill="#ff9a2e"/>
<path d="M439.23 168.03L440.98 169.78L439.23 171.53L437.48 169.78Z" fill="#ff9a2e"/>
<path d="M450.85 171.03L452.61 172.78L450.85 174.53L449.10 172.78Z" fill="#ff9a2e"/>
<path d="M462.47 173.40L464.23 175.16L462.47 176.91L460.72 175.16Z" fill="#ff9a2e"/>
<path d="M474.09 175.36L475.85 177.12L474.09 178.87L472.34 177.12Z" fill="#ff9a2e"/>
<path d="M485.72 177.33L487.47 179.08L485.72 180.83L483.96 179.08Z" fill="#ff9a2e"/>
<path d="M497.34 179.29L499.09 181.04L497.34 182.79L495.58 181.04Z" fill="#ff9a2e"/>
<path d="M508.96 181.22L510.71 182.97L508.96 184.73L507.20 182.97Z" fill="#ff9a2e"/>
<path d="M520.58 182.09L522.33 183.84L520.58 185.60L518.83 183.84Z" fill="#ff9a2e"/>
<path d="M532.20 182.05L533.95 183.80L532.20 185.55L530.45 183.80Z" fill="#ff9a2e"/>
<polyline points="311.40,88.90 323.02,108.55 334.64,125.70 346.26,136.19 357.88,142.11 369.51,148.02 381.13,151.86 392.75,155.28 404.37,157.86 415.99,161.07 427.61,164.28 439.23,167.03 450.85,170.28 462.47,172.62 474.09,175.04 485.72,177.62 497.34,180.21 508.96,182.56 520.58,183.43 532.20,183.80" fill="none" stroke="#2f7bf5" stroke-width="1.07" stroke-linejoin="round"/>
<polyline points="311.40,52.26 323.02,70.25 334.64,87.82 346.26,101.65 357.88,111.51 369.51,118.47 381.13,125.22 392.75,131.13 404.37,137.67 415.99,143.80 427.61,150.13 439.23,154.96 450.85,159.71 462.47,163.88 474.09,167.96 485.72,172.21 497.34,176.17 508.96,179.64 520.58,182.18 532.20,183.80" fill="none" stroke="#3a3a3a" stroke-width="0.93" stroke-linejoin="round"/>
<circle cx="311.40" cy="52.26" r="1.07" fill="#3a3a3a"/>
<circle cx="323.02" cy="70.25" r="1.07" fill="#3a3a3a"/>
<circle cx="334.64" cy="87.82" r="1.07" fill="#3a3a3a"/>
<circle cx="346.26" cy="101.65" r="1.07" fill="#3a3a3a"/>
<circle cx="357.88" cy="111.51" r="1.07" fill="#3a3a3a"/>
<circle cx="369.51" cy="118.47" r="1.07" fill="#3a3a3a"/>
<circle cx="381.13" cy="125.22" r="1.07" fill="#3a3a3a"/>
<circle cx="392.75" cy="131.13" r="1.07" fill="#3a3a3a"/>
<circle cx="404.37" cy="137.67" r="1.07" fill="#3a3a3a"/>
<circle cx="415.99" cy="143.80" r="1.07" fill="#3a3a3a"/>
<circle cx="427.61" cy="150.13" r="1.07" fill="#3a3a3a"/>
<circle cx="439.23" cy="154.96" r="1.07" fill="#3a3a3a"/>
<circle cx="450.85" cy="159.71" r="1.07" fill="#3a3a3a"/>
<circle cx="462.47" cy="163.88" r="1.07" fill="#3a3a3a"/>
<circle cx="474.09" cy="167.96" r="1.07" fill="#3a3a3a"/>
<circle cx="485.72" cy="172.21" r="1.07" fill="#3a3a3a"/>
<circle cx="497.34" cy="176.17" r="1.07" fill="#3a3a3a"/>
<circle cx="508.96" cy="179.64" r="1.07" fill="#3a3a3a"/>
<circle cx="520.58" cy="182.18" r="1.07" fill="#3a3a3a"/>
<circle cx="532.20" cy="183.80" r="1.07" fill="#3a3a3a"/>
<polyline points="311.40,69.33 323.02,85.65 334.64,105.30 346.26,121.21 357.88,132.95 369.51,139.70 381.13,143.53 392.75,145.70 404.37,148.29 415.99,150.46 427.61,152.63 439.23,156.46 450.85,160.29 462.47,164.13 474.09,167.96 485.72,172.21 497.34,176.04 508.96,179.64 520.58,182.18 532.20,183.80" fill="none" stroke="#1fbfff" stroke-width="1.02" stroke-linejoin="round"/>
<path d="M312.72 67.68L312.72 70.99L309.74 69.33Z" fill="#1fbfff"/>
<path d="M324.35 84.00L324.35 87.31L321.37 85.65Z" fill="#1fbfff"/>
<path d="M335.97 103.65L335.97 106.96L332.99 105.30Z" fill="#1fbfff"/>
<path d="M347.59 119.55L347.59 122.86L344.61 121.21Z" fill="#1fbfff"/>
<path d="M359.21 131.30L359.21 134.61L356.23 132.95Z" fill="#1fbfff"/>
<path d="M370.83 138.04L370.83 141.36L367.85 139.70Z" fill="#1fbfff"/>
<path d="M382.45 141.88L382.45 145.19L379.47 143.53Z" fill="#1fbfff"/>
<path d="M394.07 144.05L394.07 147.36L391.09 145.70Z" fill="#1fbfff"/>
<path d="M405.69 146.63L405.69 149.94L402.71 148.29Z" fill="#1fbfff"/>
<path d="M417.31 148.80L417.31 152.11L414.33 150.46Z" fill="#1fbfff"/>
<path d="M428.94 150.97L428.94 154.28L425.95 152.63Z" fill="#1fbfff"/>
<path d="M440.56 154.80L440.56 158.11L437.58 156.46Z" fill="#1fbfff"/>
<path d="M452.18 158.64L452.18 161.95L449.20 160.29Z" fill="#1fbfff"/>
<path d="M463.80 162.47L463.80 165.78L460.82 164.13Z" fill="#1fbfff"/>
<path d="M475.42 166.30L475.42 169.62L472.44 167.96Z" fill="#1fbfff"/>
<path d="M487.04 170.55L487.04 173.87L484.06 172.21Z" fill="#1fbfff"/>
<path d="M498.66 174.39L498.66 177.70L495.68 176.04Z" fill="#1fbfff"/>
<path d="M510.28 177.99L510.28 181.30L507.30 179.64Z" fill="#1fbfff"/>
<path d="M521.90 180.52L521.90 183.83L518.92 182.18Z" fill="#1fbfff"/>
<path d="M533.52 182.14L533.52 185.46L530.54 183.80Z" fill="#1fbfff"/>
<polyline points="311.40,54.76 323.02,67.75 334.64,83.66 346.26,95.61 357.88,108.81 369.51,119.72 381.13,128.55 392.75,137.38 404.37,144.54 415.99,148.37 427.61,151.79 439.23,155.88 450.85,159.71 462.47,163.71 474.09,167.54 485.72,171.79 497.34,175.63 508.96,178.81 520.58,181.34 532.20,183.80" fill="none" stroke="#77ee66" stroke-width="0.93" stroke-linejoin="round"/>
<circle cx="311.40" cy="54.76" r="1.27" fill="#77ee66"/>
<circle cx="323.02" cy="67.75" r="1.27" fill="#77ee66"/>
<circle cx="334.64" cy="83.66" r="1.27" fill="#77ee66"/>
<circle cx="346.26" cy="95.61" r="1.27" fill="#77ee66"/>
<circle cx="357.88" cy="108.81" r="1.27" fill="#77ee66"/>
<circle cx="369.51" cy="119.72" r="1.27" fill="#77ee66"/>
<circle cx="381.13" cy="128.55" r="1.27" fill="#77ee66"/>
<circle cx="392.75" cy="137.38" r="1.27" fill="#77ee66"/>
<circle cx="404.37" cy="144.54" r="1.27" fill="#77ee66"/>
<circle cx="415.99" cy="148.37" r="1.27" fill="#77ee66"/>
<circle cx="427.61" cy="151.79" r="1.27" fill="#77ee66"/>
<circle cx="439.23" cy="155.88" r="1.27" fill="#77ee66"/>
<circle cx="450.85" cy="159.71" r="1.27" fill="#77ee66"/>
<circle cx="462.47" cy="163.71" r="1.27" fill="#77ee66"/>
<circle cx="474.09" cy="167.54" r="1.27" fill="#77ee66"/>
<circle cx="485.72" cy="171.79" r="1.27" fill="#77ee66"/>
<circle cx="497.34" cy="175.63" r="1.27" fill="#77ee66"/>
<circle cx="508.96" cy="178.81" r="1.27" fill="#77ee66"/>
<circle cx="520.58" cy="181.34" r="1.27" fill="#77ee66"/>
<circle cx="532.20" cy="183.80" r="1.27" fill="#77ee66"/>
<polyline points="311.40,66.00 323.02,81.91 334.64,101.97 346.26,119.13 357.88,130.45 369.51,138.03 381.13,143.53 392.75,148.20 404.37,152.03 415.99,155.45 427.61,159.08 439.23,162.91 450.85,166.54 462.47,169.12 474.09,172.12 485.72,175.33 497.34,178.54 508.96,181.31 520.58,183.01 532.20,183.80" fill="none" stroke="#ff33dd" stroke-width="0.97" stroke-linejoin="round"/>
<path d="M309.94 64.83L312.86 64.83L311.40 67.46Z" fill="#ff33dd"/>
<path d="M321.56 80.74L324.48 80.74L323.02 83.37Z" fill="#ff33dd"/>
<path d="M333.18 100.81L336.10 100.81L334.64 103.43Z" fill="#ff33dd"/>
<path d="M344.80 117.96L347.72 117.96L346.26 120.59Z" fill="#ff33dd"/>
<path d="M356.42 129.29L359.35 129.29L357.88 131.92Z" fill="#ff33dd"/>
<path d="M368.04 136.87L370.97 136.87L369.51 139.50Z" fill="#ff33dd"/>
<path d="M379.67 142.36L382.59 142.36L381.13 144.99Z" fill="#ff33dd"/>
<path d="M391.29 147.03L394.21 147.03L392.75 149.66Z" fill="#ff33dd"/>
<path d="M402.91 150.86L405.83 150.86L404.37 153.49Z" fill="#ff33dd"/>
<path d="M414.53 154.28L417.45 154.28L415.99 156.91Z" fill="#ff33dd"/>
<path d="M426.15 157.91L429.07 157.91L427.61 160.54Z" fill="#ff33dd"/>
<path d="M437.77 161.74L440.69 161.74L439.23 164.37Z" fill="#ff33dd"/>
<path d="M449.39 165.37L452.31 165.37L450.85 168.00Z" fill="#ff33dd"/>
<path d="M461.01 167.95L463.93 167.95L462.47 170.58Z" fill="#ff33dd"/>
<path d="M472.63 170.95L475.56 170.95L474.09 173.58Z" fill="#ff33dd"/>
<path d="M484.25 174.16L487.18 174.16L485.72 176.79Z" fill="#ff33dd"/>
<path d="M495.88 177.37L498.80 177.37L497.34 180.00Z" fill="#ff33dd"/>
<path d="M507.50 180.14L510.42 180.14L508.96 182.77Z" fill="#ff33dd"/>
<path d="M519.12 181.84L522.04 181.84L520.58 184.47Z" fill="#ff33dd"/>
<path d="M530.74 182.63L533.66 182.63L532.20 185.26Z" fill="#ff33dd"/>
<polyline points="311.40,61.84 323.02,76.08 334.64,92.40 346.26,107.06 357.88,117.97 369.51,126.80 381.13,133.13 392.75,138.21 404.37,142.17 415.99,146.71 427.61,154.71 439.23,158.96 450.85,163.21 462.47,166.62 474.09,170.04 485.72,173.04 497.34,176.46 508.96,180.06 520.58,183.01 532.20,183.80" fill="none" stroke="#c79bf7" stroke-width="0.97" stroke-linejoin="round"/>
<path d="M311.40 60.09L313.15 61.84L311.40 63.59L309.65 61.84Z" fill="#c79bf7"/>
<path d="M323.02 74.33L324.77 76.08L323.02 77.83L321.27 76.08Z" fill="#c79bf7"/>
<path d="M334.64 90.65L336.40 92.40L334.64 94.15L332.89 92.40Z" fill="#c79bf7"/>
<path d="M346.26 105.30L348.02 107.06L346.26 108.81L344.51 107.06Z" fill="#c79bf7"/>
<path d="M357.88 116.21L359.64 117.97L357.88 119.72L356.13 117.97Z" fill="#c79bf7"/>
<path d="M369.51 125.04L371.26 126.80L369.51 128.55L367.75 126.80Z" fill="#c79bf7"/>
<path d="M381.13 131.37L382.88 133.13L381.13 134.88L379.37 133.13Z" fill="#c79bf7"/>
<path d="M392.75 136.46L394.50 138.21L392.75 139.96L390.99 138.21Z" fill="#c79bf7"/>
<path d="M404.37 140.42L406.12 142.17L404.37 143.92L402.62 142.17Z" fill="#c79bf7"/>
<path d="M415.99 144.96L417.74 146.71L415.99 148.46L414.24 146.71Z" fill="#c79bf7"/>
<path d="M427.61 152.95L429.36 154.71L427.61 156.46L425.86 154.71Z" fill="#c79bf7"/>
<path d="M439.23 157.20L440.98 158.96L439.23 160.71L437.48 158.96Z" fill="#c79bf7"/>
<path d="M450.85 161.45L452.61 163.21L450.85 164.96L449.10 163.21Z" fill="#c79bf7"/>
<path d="M462.47 164.87L464.23 166.62L462.47 168.38L460.72 166.62Z" fill="#c79bf7"/>
<path d="M474.09 168.29L475.85 170.04L474.09 171.79L472.34 170.04Z" fill="#c79bf7"/>
<path d="M485.72 171.29L487.47 173.04L485.72 174.80L483.96 173.04Z" fill="#c79bf7"/>
<path d="M497.34 174.71L499.09 176.46L497.34 178.21L495.58 176.46Z" fill="#c79bf7"/>
<path d="M508.96 178.31L510.71 180.06L508.96 181.81L507.20 180.06Z" fill="#c79bf7"/>
<path d="M520.58 181.26L522.33 183.01L520.58 184.76L518.83 183.01Z" fill="#c79bf7"/>
<path d="M532.20 182.05L533.95 183.80L532.20 185.55L530.45 183.80Z" fill="#c79bf7"/>
<polyline points="311.40,60.59 323.02,74.83 334.64,91.15 346.26,105.81 357.88,117.55 369.51,127.63 381.13,138.12 392.75,146.53 404.37,153.45 415.99,156.70 427.61,159.29 439.23,163.12 450.85,166.95 462.47,170.79 474.09,174.20 485.72,177.62 497.34,181.04 508.96,183.39 520.58,184.26 532.20,183.80" fill="none" stroke="#b060cc" stroke-width="1.07" stroke-linejoin="round"/>
<polyline points="311.40,63.92 323.02,77.74 334.64,94.07 346.26,108.31 357.88,118.80 369.51,126.80 381.13,134.38 392.75,142.08 404.37,147.45 415.99,150.46 427.61,155.96 439.23,159.79 450.85,163.62 462.47,166.87 474.09,170.04 485.72,172.21 497.34,175.63 508.96,180.23 520.58,183.84 532.20,183.80" fill="none" stroke="#7a7af0" stroke-width="0.97" stroke-linejoin="round"/>
<path d="M311.40 62.07L312.23 63.09L313.25 63.92L312.23 64.75L311.40 65.77L310.57 64.75L309.55 63.92L310.57 63.09Z" fill="#7a7af0"/>
<path d="M323.02 75.89L323.85 76.91L324.87 77.74L323.85 78.58L323.02 79.59L322.19 78.58L321.17 77.74L322.19 76.91Z" fill="#7a7af0"/>
<path d="M334.64 92.21L335.47 93.23L336.49 94.07L335.47 94.90L334.64 95.92L333.81 94.90L332.79 94.07L333.81 93.23Z" fill="#7a7af0"/>
<path d="M346.26 106.45L347.10 107.47L348.11 108.31L347.10 109.14L346.26 110.16L345.43 109.14L344.41 108.31L345.43 107.47Z" fill="#7a7af0"/>
<path d="M357.88 116.95L358.72 117.97L359.73 118.80L358.72 119.63L357.88 120.65L357.05 119.63L356.03 118.80L357.05 117.97Z" fill="#7a7af0"/>
<path d="M369.51 124.95L370.34 125.96L371.36 126.80L370.34 127.63L369.51 128.65L368.67 127.63L367.65 126.80L368.67 125.96Z" fill="#7a7af0"/>
<path d="M381.13 132.53L381.96 133.54L382.98 134.38L381.96 135.21L381.13 136.23L380.29 135.21L379.28 134.38L380.29 133.54Z" fill="#7a7af0"/>
<path d="M392.75 140.23L393.58 141.25L394.60 142.08L393.58 142.91L392.75 143.93L391.91 142.91L390.90 142.08L391.91 141.25Z" fill="#7a7af0"/>
<path d="M404.37 145.60L405.20 146.62L406.22 147.45L405.20 148.29L404.37 149.31L403.54 148.29L402.52 147.45L403.54 146.62Z" fill="#7a7af0"/>
<path d="M415.99 148.61L416.82 149.62L417.84 150.46L416.82 151.29L415.99 152.31L415.16 151.29L414.14 150.46L415.16 149.62Z" fill="#7a7af0"/>
<path d="M427.61 154.10L428.44 155.12L429.46 155.96L428.44 156.79L427.61 157.81L426.78 156.79L425.76 155.96L426.78 155.12Z" fill="#7a7af0"/>
<path d="M439.23 157.94L440.06 158.96L441.08 159.79L440.06 160.62L439.23 161.64L438.40 160.62L437.38 159.79L438.40 158.96Z" fill="#7a7af0"/>
<path d="M450.85 161.77L451.69 162.79L452.70 163.62L451.69 164.46L450.85 165.47L450.02 164.46L449.00 163.62L450.02 162.79Z" fill="#7a7af0"/>
<path d="M462.47 165.02L463.31 166.04L464.32 166.87L463.31 167.71L462.47 168.72L461.64 167.71L460.62 166.87L461.64 166.04Z" fill="#7a7af0"/>
<path d="M474.09 168.19L474.93 169.21L475.95 170.04L474.93 170.87L474.09 171.89L473.26 170.87L472.24 170.04L473.26 169.21Z" fill="#7a7af0"/>
<path d="M485.72 170.36L486.55 171.38L487.57 172.21L486.55 173.04L485.72 174.06L484.88 173.04L483.87 172.21L484.88 171.38Z" fill="#7a7af0"/>
<path d="M497.34 173.78L498.17 174.80L499.19 175.63L498.17 176.46L497.34 177.48L496.50 176.46L495.49 175.63L496.50 174.80Z" fill="#7a7af0"/>
<path d="M508.96 178.38L509.79 179.39L510.81 180.23L509.79 181.06L508.96 182.08L508.13 181.06L507.11 180.23L508.13 179.39Z" fill="#7a7af0"/>
<path d="M520.58 181.99L521.41 183.01L522.43 183.84L521.41 184.67L520.58 185.69L519.75 184.67L518.73 183.84L519.75 183.01Z" fill="#7a7af0"/>
<path d="M532.20 181.95L533.03 182.97L534.05 183.80L533.03 184.63L532.20 185.65L531.37 184.63L530.35 183.80L531.37 182.97Z" fill="#7a7af0"/>
<polyline points="311.40,64.75 323.02,80.24 334.64,97.81 346.26,113.30 357.88,125.25 369.51,137.41 381.13,144.37 392.75,149.03 404.37,152.87 415.99,156.70 427.61,160.12 439.23,163.95 450.85,167.79 462.47,171.62 474.09,175.45 485.72,179.08 497.34,181.87 508.96,183.64 520.58,184.26 532.20,183.80" fill="none" stroke="#e0104f" stroke-width="1.12" stroke-linejoin="round"/>
<circle cx="311.40" cy="64.75" r="1.70" fill="#e0104f"/>
<circle cx="323.02" cy="80.24" r="1.70" fill="#e0104f"/>
<circle cx="334.64" cy="97.81" r="1.70" fill="#e0104f"/>
<circle cx="346.26" cy="113.30" r="1.70" fill="#e0104f"/>
<circle cx="357.88" cy="125.25" r="1.70" fill="#e0104f"/>
<circle cx="369.51" cy="137.41" r="1.70" fill="#e0104f"/>
<circle cx="381.13" cy="144.37" r="1.70" fill="#e0104f"/>
<circle cx="392.75" cy="149.03" r="1.70" fill="#e0104f"/>
<circle cx="404.37" cy="152.87" r="1.70" fill="#e0104f"/>
<circle cx="415.99" cy="156.70" r="1.70" fill="#e0104f"/>
<circle cx="427.61" cy="160.12" r="1.70" fill="#e0104f"/>
<circle cx="439.23" cy="163.95" r="1.70" fill="#e0104f"/>
<circle cx="450.85" cy="167.79" r="1.70" fill="#e0104f"/>
<circle cx="462.47" cy="171.62" r="1.70" fill="#e0104f"/>
<circle cx="474.09" cy="175.45" r="1.70" fill="#e0104f"/>
<circle cx="485.72" cy="179.08" r="1.70" fill="#e0104f"/>
<circle cx="497.34" cy="181.87" r="1.70" fill="#e0104f"/>
<circle cx="508.96" cy="183.64" r="1.70" fill="#e0104f"/>
<circle cx="520.58" cy="184.26" r="1.70" fill="#e0104f"/>
<circle cx="532.20" cy="183.80" r="1.70" fill="#e0104f"/>
<polyline points="311.40,45.61 323.02,59.43 334.64,71.17 346.26,80.00 357.88,86.91 369.51,93.50 381.13,99.83 392.75,106.16 404.37,112.07 415.99,118.20 427.61,124.90 439.23,131.19 450.85,138.02 462.47,144.98 474.09,151.93 485.72,158.35 497.34,165.64 508.96,172.98 520.58,179.80 532.20,183.80" fill="none" stroke="#f5a81e" stroke-width="1.17" stroke-linejoin="round"/>
<polyline points="311.40,43.52 323.02,56.93 334.64,67.01 346.26,75.84 357.88,83.58 369.51,90.29 381.13,96.91 392.75,102.99 404.37,109.58 415.99,115.91 427.61,122.24 439.23,128.78 450.85,135.32 462.47,142.07 474.09,149.23 485.72,156.81 497.34,163.97 508.96,171.32 520.58,178.43 532.20,183.80" fill="none" stroke="#7b92d8" stroke-width="0.93" stroke-linejoin="round"/>
<path d="M309.94 42.35L312.86 42.35L311.40 44.98Z" fill="#7b92d8"/>
<path d="M321.56 55.76L324.48 55.76L323.02 58.39Z" fill="#7b92d8"/>
<path d="M333.18 65.84L336.10 65.84L334.64 68.47Z" fill="#7b92d8"/>
<path d="M344.80 74.67L347.72 74.67L346.26 77.30Z" fill="#7b92d8"/>
<path d="M356.42 82.42L359.35 82.42L357.88 85.05Z" fill="#7b92d8"/>
<path d="M368.04 89.12L370.97 89.12L369.51 91.75Z" fill="#7b92d8"/>
<path d="M379.67 95.74L382.59 95.74L381.13 98.37Z" fill="#7b92d8"/>
<path d="M391.29 101.83L394.21 101.83L392.75 104.46Z" fill="#7b92d8"/>
<path d="M402.91 108.41L405.83 108.41L404.37 111.04Z" fill="#7b92d8"/>
<path d="M414.53 114.74L417.45 114.74L415.99 117.37Z" fill="#7b92d8"/>
<path d="M426.15 121.07L429.07 121.07L427.61 123.70Z" fill="#7b92d8"/>
<path d="M437.77 127.61L440.69 127.61L439.23 130.24Z" fill="#7b92d8"/>
<path d="M449.39 134.15L452.31 134.15L450.85 136.78Z" fill="#7b92d8"/>
<path d="M461.01 140.90L463.93 140.90L462.47 143.53Z" fill="#7b92d8"/>
<path d="M472.63 148.06L475.56 148.06L474.09 150.69Z" fill="#7b92d8"/>
<path d="M484.25 155.64L487.18 155.64L485.72 158.27Z" fill="#7b92d8"/>
<path d="M495.88 162.80L498.80 162.80L497.34 165.43Z" fill="#7b92d8"/>
<path d="M507.50 170.15L510.42 170.15L508.96 172.78Z" fill="#7b92d8"/>
<path d="M519.12 177.26L522.04 177.26L520.58 179.89Z" fill="#7b92d8"/>
<path d="M530.74 182.63L533.66 182.63L532.20 185.26Z" fill="#7b92d8"/>
<polyline points="311.40,40.19 323.02,54.02 334.64,62.01 346.26,69.59 357.88,75.51 369.51,81.01 381.13,86.30 392.75,92.13 404.37,98.34 415.99,105.50 427.61,113.08 439.23,120.04 450.85,127.41 462.47,135.20 474.09,142.99 485.72,152.02 497.34,160.64 508.96,169.24 520.58,177.18 532.20,183.80" fill="none" stroke="#6aaa1e" stroke-width="1.12" stroke-linejoin="round"/>
<circle cx="311.40" cy="40.19" r="1.51" fill="#6aaa1e"/>
<circle cx="323.02" cy="54.02" r="1.51" fill="#6aaa1e"/>
<circle cx="334.64" cy="62.01" r="1.51" fill="#6aaa1e"/>
<circle cx="346.26" cy="69.59" r="1.51" fill="#6aaa1e"/>
<circle cx="357.88" cy="75.51" r="1.51" fill="#6aaa1e"/>
<circle cx="369.51" cy="81.01" r="1.51" fill="#6aaa1e"/>
<circle cx="381.13" cy="86.30" r="1.51" fill="#6aaa1e"/>
<circle cx="392.75" cy="92.13" r="1.51" fill="#6aaa1e"/>
<circle cx="404.37" cy="98.34" r="1.51" fill="#6aaa1e"/>
<circle cx="415.99" cy="105.50" r="1.51" fill="#6aaa1e"/>
<circle cx="427.61" cy="113.08" r="1.51" fill="#6aaa1e"/>
<circle cx="439.23" cy="120.04" r="1.51" fill="#6aaa1e"/>
<circle cx="450.85" cy="127.41" r="1.51" fill="#6aaa1e"/>
<circle cx="462.47" cy="135.20" r="1.51" fill="#6aaa1e"/>
<circle cx="474.09" cy="142.99" r="1.51" fill="#6aaa1e"/>
<circle cx="485.72" cy="152.02" r="1.51" fill="#6aaa1e"/>
<circle cx="497.34" cy="160.64" r="1.51" fill="#6aaa1e"/>
<circle cx="508.96" cy="169.24" r="1.51" fill="#6aaa1e"/>
<circle cx="520.58" cy="177.18" r="1.51" fill="#6aaa1e"/>
<circle cx="532.20" cy="183.80" r="1.51" fill="#6aaa1e"/>
<polyline points="311.40,35.62 323.02,48.19 334.64,53.69 346.26,58.36 357.88,63.44 369.51,68.52 381.13,73.60 392.75,79.10 404.37,85.43 415.99,92.60 427.61,100.59 439.23,108.59 450.85,117.00 462.47,125.83 474.09,135.08 485.72,145.15 497.34,155.65 508.96,165.49 520.58,175.52 532.20,183.80" fill="none" stroke="#ff2d78" stroke-width="1.12" stroke-linejoin="round"/>
<circle cx="311.40" cy="35.62" r="1.51" fill="#ff2d78"/>
<circle cx="323.02" cy="48.19" r="1.51" fill="#ff2d78"/>
<circle cx="334.64" cy="53.69" r="1.51" fill="#ff2d78"/>
<circle cx="346.26" cy="58.36" r="1.51" fill="#ff2d78"/>
<circle cx="357.88" cy="63.44" r="1.51" fill="#ff2d78"/>
<circle cx="369.51" cy="68.52" r="1.51" fill="#ff2d78"/>
<circle cx="381.13" cy="73.60" r="1.51" fill="#ff2d78"/>
<circle cx="392.75" cy="79.10" r="1.51" fill="#ff2d78"/>
<circle cx="404.37" cy="85.43" r="1.51" fill="#ff2d78"/>
<circle cx="415.99" cy="92.60" r="1.51" fill="#ff2d78"/>
<circle cx="427.61" cy="100.59" r="1.51" fill="#ff2d78"/>
<circle cx="439.23" cy="108.59" r="1.51" fill="#ff2d78"/>
<circle cx="450.85" cy="117.00" r="1.51" fill="#ff2d78"/>
<circle cx="462.47" cy="125.83" r="1.51" fill="#ff2d78"/>
<circle cx="474.09" cy="135.08" r="1.51" fill="#ff2d78"/>
<circle cx="485.72" cy="145.15" r="1.51" fill="#ff2d78"/>
<circle cx="497.34" cy="155.65" r="1.51" fill="#ff2d78"/>
<circle cx="508.96" cy="165.49" r="1.51" fill="#ff2d78"/>
<circle cx="520.58" cy="175.52" r="1.51" fill="#ff2d78"/>
<circle cx="532.20" cy="183.80" r="1.51" fill="#ff2d78"/>
</g>
<line x1="311.40" y1="16.80" x2="311.40" y2="192.73" stroke="#8c8c8c" stroke-width="0.9"/>
<line x1="310.80" y1="192.13" x2="532.70" y2="192.13" stroke="#8c8c8c" stroke-width="0.9"/>
<line x1="311.40" y1="192.13" x2="311.40" y2="193.93" stroke="#9a9a9a" stroke-width="0.8"/>
<text x="311.40" y="201.48" font-size="8.62" text-anchor="middle">0.0</text>
<line x1="355.56" y1="192.13" x2="355.56" y2="193.93" stroke="#9a9a9a" stroke-width="0.8"/>
<text x="355.56" y="201.48" font-size="8.62" text-anchor="middle">0.2</text>
<line x1="399.72" y1="192.13" x2="399.72" y2="193.93" stroke="#9a9a9a" stroke-width="0.8"/>
<text x="399.72" y="201.48" font-size="8.62" text-anchor="middle">0.4</text>
<line x1="443.88" y1="192.13" x2="443.88" y2="193.93" stroke="#9a9a9a" stroke-width="0.8"/>
<text x="443.88" y="201.48" font-size="8.62" text-anchor="middle">0.6</text>
<line x1="488.04" y1="192.13" x2="488.04" y2="193.93" stroke="#9a9a9a" stroke-width="0.8"/>
<text x="488.04" y="201.48" font-size="8.62" text-anchor="middle">0.8</text>
<line x1="532.20" y1="192.13" x2="532.20" y2="193.93" stroke="#9a9a9a" stroke-width="0.8"/>
<text x="532.20" y="201.48" font-size="8.62" text-anchor="middle">1.0</text>
<line x1="309.60" y1="183.80" x2="311.40" y2="183.80" stroke="#9a9a9a" stroke-width="0.8"/>
<text x="308.77" y="186.62" font-size="8.62" text-anchor="end">0.60</text>
<line x1="309.60" y1="162.99" x2="311.40" y2="162.99" stroke="#9a9a9a" stroke-width="0.8"/>
<text x="308.77" y="165.81" font-size="8.62" text-anchor="end">0.65</text>
<line x1="309.60" y1="142.18" x2="311.40" y2="142.18" stroke="#9a9a9a" stroke-width="0.8"/>
<text x="308.77" y="145.00" font-size="8.62" text-anchor="end">0.70</text>
<line x1="309.60" y1="121.36" x2="311.40" y2="121.36" stroke="#9a9a9a" stroke-width="0.8"/>
<text x="308.77" y="124.19" font-size="8.62" text-anchor="end">0.75</text>
<line x1="309.60" y1="100.55" x2="311.40" y2="100.55" stroke="#9a9a9a" stroke-width="0.8"/>
<text x="308.77" y="103.37" font-size="8.62" text-anchor="end">0.80</text>
<line x1="309.60" y1="79.74" x2="311.40" y2="79.74" stroke="#9a9a9a" stroke-width="0.8"/>
<text x="308.77" y="82.56" font-size="8.62" text-anchor="end">0.85</text>
<line x1="309.60" y1="58.92" x2="311.40" y2="58.92" stroke="#9a9a9a" stroke-width="0.8"/>
<text x="308.77" y="61.75" font-size="8.62" text-anchor="end">0.90</text>
<line x1="309.60" y1="38.11" x2="311.40" y2="38.11" stroke="#9a9a9a" stroke-width="0.8"/>
<text x="308.77" y="40.94" font-size="8.62" text-anchor="end">0.95</text>
<line x1="309.60" y1="17.30" x2="311.40" y2="17.30" stroke="#9a9a9a" stroke-width="0.8"/>
<text x="308.77" y="20.12" font-size="8.62" text-anchor="end">1.00</text>
<text x="421.80" y="210.44" font-size="8.62" font-weight="bold" text-anchor="middle" fill="#111">Recall</text>
<text transform="translate(290.36,104.71) rotate(-90)" font-size="8.62" font-weight="bold" text-anchor="middle" fill="#111">Precision</text>
<rect x="484.96" y="19.05" width="45.48" height="149.41" fill="#fff" fill-opacity="0.84" stroke="#e4e4e4" stroke-width="0.6"/>
<line x1="486.62" y1="25.77" x2="495.19" y2="25.77" stroke="#ff2d78" stroke-width="0.95"/>
<circle cx="490.90" cy="25.77" r="1.28" fill="#ff2d78"/>
<text x="497.92" y="27.19" font-size="8.62">DVSH</text>
<line x1="486.62" y1="35.65" x2="495.19" y2="35.65" stroke="#ff33dd" stroke-width="0.83"/>
<path d="M489.66 34.66L492.15 34.66L490.90 36.89Z" fill="#ff33dd"/>
<text x="497.92" y="37.06" font-size="8.62">DRSCH</text>
<line x1="486.62" y1="45.53" x2="495.19" y2="45.53" stroke="#ff9a2e" stroke-width="0.83"/>
<path d="M490.90 44.04L492.39 45.53L490.90 47.02L489.41 45.53Z" fill="#ff9a2e"/>
<text x="497.92" y="46.94" font-size="8.62">DSRH</text>
<line x1="486.62" y1="55.40" x2="495.19" y2="55.40" stroke="#1fbfff" stroke-width="0.87"/>
<path d="M492.03 53.99L492.03 56.81L489.50 55.40Z" fill="#1fbfff"/>
<text x="497.92" y="56.81" font-size="8.62">DNNH</text>
<line x1="486.62" y1="65.28" x2="495.19" y2="65.28" stroke="#2f7bf5" stroke-width="0.91"/>
<text x="497.92" y="66.69" font-size="8.62">CNNH+</text>
<line x1="486.62" y1="75.15" x2="495.19" y2="75.15" stroke="#b060cc" stroke-width="0.91"/>
<text x="497.92" y="76.57" font-size="8.62">DSH</text>
<line x1="486.62" y1="85.03" x2="495.19" y2="85.03" stroke="#e0104f" stroke-width="0.95"/>
<circle cx="490.90" cy="85.03" r="1.45" fill="#e0104f"/>
<text x="497.92" y="86.44" font-size="8.62">DHN</text>
<line x1="486.62" y1="94.91" x2="495.19" y2="94.91" stroke="#c79bf7" stroke-width="0.83"/>
<path d="M490.90 93.42L492.39 94.91L490.90 96.40L489.41 94.91Z" fill="#c79bf7"/>
<text x="497.92" y="96.32" font-size="8.62">IDHN</text>
<line x1="486.62" y1="104.78" x2="495.19" y2="104.78" stroke="#3a3a3a" stroke-width="0.79"/>
<circle cx="490.90" cy="104.78" r="0.91" fill="#3a3a3a"/>
<text x="497.92" y="106.19" font-size="8.62">CSQ</text>
<line x1="486.62" y1="114.66" x2="495.19" y2="114.66" stroke="#77ee66" stroke-width="0.79"/>
<circle cx="490.90" cy="114.66" r="1.08" fill="#77ee66"/>
<text x="497.92" y="116.07" font-size="8.62">ISDH</text>
<line x1="486.62" y1="124.53" x2="495.19" y2="124.53" stroke="#ffa050" stroke-width="0.87"/>
<text x="497.92" y="125.95" font-size="8.62">DSHSD</text>
<line x1="486.62" y1="134.41" x2="495.19" y2="134.41" stroke="#7a7af0" stroke-width="0.83"/>
<path d="M490.90 132.84L491.61 133.70L492.48 134.41L491.61 135.12L490.90 135.98L490.20 135.12L489.33 134.41L490.20 133.70Z" fill="#7a7af0"/>
<text x="497.92" y="135.82" font-size="8.62">SuBiC</text>
<line x1="486.62" y1="144.29" x2="495.19" y2="144.29" stroke="#f5a81e" stroke-width="0.99"/>
<text x="497.92" y="145.70" font-size="8.62">MVL</text>
<line x1="486.62" y1="154.16" x2="495.19" y2="154.16" stroke="#6aaa1e" stroke-width="0.95"/>
<circle cx="490.90" cy="154.16" r="1.28" fill="#6aaa1e"/>
<text x="497.92" y="155.58" font-size="8.62">UDHNR</text>
<line x1="486.62" y1="164.04" x2="495.19" y2="164.04" stroke="#7b92d8" stroke-width="0.79"/>
<path d="M489.66 163.05L492.15 163.05L490.90 165.28Z" fill="#7b92d8"/>
<text x="497.92" y="165.45" font-size="8.62">VTDH</text>
<text x="411.80" y="231.60" font-size="12.2" text-anchor="middle" fill="#111">(<tspan font-weight="bold">b</tspan>)</text>
</g>
<g>
<line x1="36.70" y1="258.70" x2="36.70" y2="438.14" stroke="#eaeaea" stroke-width="0.7"/>
<line x1="82.00" y1="258.70" x2="82.00" y2="438.14" stroke="#eaeaea" stroke-width="0.7"/>
<line x1="127.30" y1="258.70" x2="127.30" y2="438.14" stroke="#eaeaea" stroke-width="0.7"/>
<line x1="172.60" y1="258.70" x2="172.60" y2="438.14" stroke="#eaeaea" stroke-width="0.7"/>
<line x1="217.90" y1="258.70" x2="217.90" y2="438.14" stroke="#eaeaea" stroke-width="0.7"/>
<line x1="263.20" y1="258.70" x2="263.20" y2="438.14" stroke="#eaeaea" stroke-width="0.7"/>
<line x1="36.70" y1="429.60" x2="263.20" y2="429.60" stroke="#eaeaea" stroke-width="0.7"/>
<line x1="36.70" y1="408.24" x2="263.20" y2="408.24" stroke="#eaeaea" stroke-width="0.7"/>
<line x1="36.70" y1="386.88" x2="263.20" y2="386.88" stroke="#eaeaea" stroke-width="0.7"/>
<line x1="36.70" y1="365.51" x2="263.20" y2="365.51" stroke="#eaeaea" stroke-width="0.7"/>
<line x1="36.70" y1="344.15" x2="263.20" y2="344.15" stroke="#eaeaea" stroke-width="0.7"/>
<line x1="36.70" y1="322.79" x2="263.20" y2="322.79" stroke="#eaeaea" stroke-width="0.7"/>
<line x1="36.70" y1="301.42" x2="263.20" y2="301.42" stroke="#eaeaea" stroke-width="0.7"/>
<line x1="36.70" y1="280.06" x2="263.20" y2="280.06" stroke="#eaeaea" stroke-width="0.7"/>
<line x1="36.70" y1="258.70" x2="263.20" y2="258.70" stroke="#eaeaea" stroke-width="0.7"/>
<clipPath id="clipc"><rect x="36.50" y="254.70" width="227.00" height="183.44"/></clipPath>
<g clip-path="url(#clipc)">
<polyline points="36.70,299.72 48.62,322.02 60.54,339.11 72.46,355.34 84.38,366.88 96.31,377.56 108.23,385.25 120.15,391.23 132.07,396.79 143.99,401.91 155.91,406.61 167.83,410.46 179.75,413.88 191.67,416.87 203.59,419.43 215.52,421.57 227.44,423.70 239.36,425.93 251.28,427.98 263.20,429.60" fill="none" stroke="#ffa050" stroke-width="1.05" stroke-linejoin="round"/>
<polyline points="36.70,301.00 48.62,322.87 60.54,340.39 72.46,354.06 84.38,364.87 96.31,375.85 108.23,384.18 120.15,392.09 132.07,398.92 143.99,404.26 155.91,408.88 167.83,413.02 179.75,416.01 191.67,418.36 203.59,420.29 215.52,422.21 227.44,424.13 239.36,426.36 251.28,428.41 263.20,429.60" fill="none" stroke="#ff9a2e" stroke-width="1.00" stroke-linejoin="round"/>
<path d="M36.70 299.20L38.50 301.00L36.70 302.80L34.90 301.00Z" fill="#ff9a2e"/>
<path d="M48.62 321.07L50.42 322.87L48.62 324.67L46.82 322.87Z" fill="#ff9a2e"/>
<path d="M60.54 338.59L62.34 340.39L60.54 342.19L58.74 340.39Z" fill="#ff9a2e"/>
<path d="M72.46 352.26L74.26 354.06L72.46 355.86L70.66 354.06Z" fill="#ff9a2e"/>
<path d="M84.38 363.07L86.18 364.87L84.38 366.67L82.59 364.87Z" fill="#ff9a2e"/>
<path d="M96.31 374.05L98.10 375.85L96.31 377.65L94.51 375.85Z" fill="#ff9a2e"/>
<path d="M108.23 382.38L110.02 384.18L108.23 385.98L106.43 384.18Z" fill="#ff9a2e"/>
<path d="M120.15 390.29L121.95 392.09L120.15 393.89L118.35 392.09Z" fill="#ff9a2e"/>
<path d="M132.07 397.13L133.87 398.92L132.07 400.72L130.27 398.92Z" fill="#ff9a2e"/>
<path d="M143.99 402.47L145.79 404.26L143.99 406.06L142.19 404.26Z" fill="#ff9a2e"/>
<path d="M155.91 407.08L157.71 408.88L155.91 410.68L154.11 408.88Z" fill="#ff9a2e"/>
<path d="M167.83 411.22L169.63 413.02L167.83 414.82L166.03 413.02Z" fill="#ff9a2e"/>
<path d="M179.75 414.22L181.55 416.01L179.75 417.81L177.95 416.01Z" fill="#ff9a2e"/>
<path d="M191.67 416.56L193.47 418.36L191.67 420.16L189.88 418.36Z" fill="#ff9a2e"/>
<path d="M203.59 418.49L205.39 420.29L203.59 422.08L201.80 420.29Z" fill="#ff9a2e"/>
<path d="M215.52 420.41L217.31 422.21L215.52 424.01L213.72 422.21Z" fill="#ff9a2e"/>
<path d="M227.44 422.33L229.24 424.13L227.44 425.93L225.64 424.13Z" fill="#ff9a2e"/>
<path d="M239.36 424.56L241.16 426.36L239.36 428.16L237.56 426.36Z" fill="#ff9a2e"/>
<path d="M251.28 426.61L253.08 428.41L251.28 430.21L249.48 428.41Z" fill="#ff9a2e"/>
<path d="M263.20 427.80L265.00 429.60L263.20 431.40L261.40 429.60Z" fill="#ff9a2e"/>
<polyline points="36.70,323.64 48.62,351.07 60.54,368.59 72.46,379.27 84.38,385.25 96.31,391.23 108.23,395.08 120.15,398.50 132.07,401.06 143.99,404.26 155.91,407.47 167.83,410.20 179.75,413.45 191.67,415.76 203.59,418.15 215.52,420.71 227.44,423.28 239.36,425.93 251.28,427.98 263.20,429.60" fill="none" stroke="#2f7bf5" stroke-width="1.10" stroke-linejoin="round"/>
<polyline points="36.70,286.04 48.62,311.76 60.54,329.71 72.46,343.81 84.38,353.85 96.31,360.90 108.23,367.73 120.15,373.72 132.07,380.34 143.99,386.53 155.91,392.94 167.83,397.81 179.75,402.60 191.67,406.78 203.59,410.89 215.52,415.16 227.44,419.13 239.36,422.94 251.28,426.70 263.20,429.60" fill="none" stroke="#3a3a3a" stroke-width="0.95" stroke-linejoin="round"/>
<circle cx="36.70" cy="286.04" r="1.10" fill="#3a3a3a"/>
<circle cx="48.62" cy="311.76" r="1.10" fill="#3a3a3a"/>
<circle cx="60.54" cy="329.71" r="1.10" fill="#3a3a3a"/>
<circle cx="72.46" cy="343.81" r="1.10" fill="#3a3a3a"/>
<circle cx="84.38" cy="353.85" r="1.10" fill="#3a3a3a"/>
<circle cx="96.31" cy="360.90" r="1.10" fill="#3a3a3a"/>
<circle cx="108.23" cy="367.73" r="1.10" fill="#3a3a3a"/>
<circle cx="120.15" cy="373.72" r="1.10" fill="#3a3a3a"/>
<circle cx="132.07" cy="380.34" r="1.10" fill="#3a3a3a"/>
<circle cx="143.99" cy="386.53" r="1.10" fill="#3a3a3a"/>
<circle cx="155.91" cy="392.94" r="1.10" fill="#3a3a3a"/>
<circle cx="167.83" cy="397.81" r="1.10" fill="#3a3a3a"/>
<circle cx="179.75" cy="402.60" r="1.10" fill="#3a3a3a"/>
<circle cx="191.67" cy="406.78" r="1.10" fill="#3a3a3a"/>
<circle cx="203.59" cy="410.89" r="1.10" fill="#3a3a3a"/>
<circle cx="215.52" cy="415.16" r="1.10" fill="#3a3a3a"/>
<circle cx="227.44" cy="419.13" r="1.10" fill="#3a3a3a"/>
<circle cx="239.36" cy="422.94" r="1.10" fill="#3a3a3a"/>
<circle cx="251.28" cy="426.70" r="1.10" fill="#3a3a3a"/>
<circle cx="263.20" cy="429.60" r="1.10" fill="#3a3a3a"/>
<polyline points="36.70,303.56 48.62,327.57 60.54,347.65 72.46,363.89 84.38,375.85 96.31,382.69 108.23,386.53 120.15,388.67 132.07,391.23 143.99,393.37 155.91,395.51 167.83,399.35 179.75,403.20 191.67,407.04 203.59,410.89 215.52,415.16 227.44,419.00 239.36,422.94 251.28,426.70 263.20,429.60" fill="none" stroke="#1fbfff" stroke-width="1.05" stroke-linejoin="round"/>
<path d="M38.06 301.86L38.06 305.26L35.00 303.56Z" fill="#1fbfff"/>
<path d="M49.98 325.87L49.98 329.27L46.92 327.57Z" fill="#1fbfff"/>
<path d="M61.90 345.95L61.90 349.35L58.84 347.65Z" fill="#1fbfff"/>
<path d="M73.82 362.19L73.82 365.59L70.76 363.89Z" fill="#1fbfff"/>
<path d="M85.74 374.15L85.74 377.55L82.69 375.85Z" fill="#1fbfff"/>
<path d="M97.66 380.99L97.66 384.39L94.61 382.69Z" fill="#1fbfff"/>
<path d="M109.59 384.83L109.59 388.23L106.53 386.53Z" fill="#1fbfff"/>
<path d="M121.51 386.97L121.51 390.37L118.45 388.67Z" fill="#1fbfff"/>
<path d="M133.43 389.53L133.43 392.93L130.37 391.23Z" fill="#1fbfff"/>
<path d="M145.35 391.67L145.35 395.07L142.29 393.37Z" fill="#1fbfff"/>
<path d="M157.27 393.81L157.27 397.20L154.21 395.51Z" fill="#1fbfff"/>
<path d="M169.19 397.65L169.19 401.05L166.13 399.35Z" fill="#1fbfff"/>
<path d="M181.11 401.50L181.11 404.89L178.05 403.20Z" fill="#1fbfff"/>
<path d="M193.03 405.34L193.03 408.74L189.98 407.04Z" fill="#1fbfff"/>
<path d="M204.95 409.19L204.95 412.58L201.90 410.89Z" fill="#1fbfff"/>
<path d="M216.87 413.46L216.87 416.86L213.82 415.16Z" fill="#1fbfff"/>
<path d="M228.80 417.31L228.80 420.70L225.74 419.00Z" fill="#1fbfff"/>
<path d="M240.72 421.25L240.72 424.64L237.66 422.94Z" fill="#1fbfff"/>
<path d="M252.64 425.00L252.64 428.40L249.58 426.70Z" fill="#1fbfff"/>
<path d="M264.56 427.90L264.56 431.30L261.50 429.60Z" fill="#1fbfff"/>
<polyline points="36.70,288.61 48.62,309.20 60.54,325.44 72.46,337.61 84.38,351.07 96.31,362.18 108.23,371.15 120.15,380.12 132.07,387.39 143.99,391.23 155.91,394.65 167.83,398.75 179.75,402.60 191.67,406.61 203.59,410.46 215.52,414.73 227.44,418.58 239.36,422.09 251.28,425.84 263.20,429.60" fill="none" stroke="#77ee66" stroke-width="0.95" stroke-linejoin="round"/>
<circle cx="36.70" cy="288.61" r="1.30" fill="#77ee66"/>
<circle cx="48.62" cy="309.20" r="1.30" fill="#77ee66"/>
<circle cx="60.54" cy="325.44" r="1.30" fill="#77ee66"/>
<circle cx="72.46" cy="337.61" r="1.30" fill="#77ee66"/>
<circle cx="84.38" cy="351.07" r="1.30" fill="#77ee66"/>
<circle cx="96.31" cy="362.18" r="1.30" fill="#77ee66"/>
<circle cx="108.23" cy="371.15" r="1.30" fill="#77ee66"/>
<circle cx="120.15" cy="380.12" r="1.30" fill="#77ee66"/>
<circle cx="132.07" cy="387.39" r="1.30" fill="#77ee66"/>
<circle cx="143.99" cy="391.23" r="1.30" fill="#77ee66"/>
<circle cx="155.91" cy="394.65" r="1.30" fill="#77ee66"/>
<circle cx="167.83" cy="398.75" r="1.30" fill="#77ee66"/>
<circle cx="179.75" cy="402.60" r="1.30" fill="#77ee66"/>
<circle cx="191.67" cy="406.61" r="1.30" fill="#77ee66"/>
<circle cx="203.59" cy="410.46" r="1.30" fill="#77ee66"/>
<circle cx="215.52" cy="414.73" r="1.30" fill="#77ee66"/>
<circle cx="227.44" cy="418.58" r="1.30" fill="#77ee66"/>
<circle cx="239.36" cy="422.09" r="1.30" fill="#77ee66"/>
<circle cx="251.28" cy="425.84" r="1.30" fill="#77ee66"/>
<circle cx="263.20" cy="429.60" r="1.30" fill="#77ee66"/>
<polyline points="36.70,300.14 48.62,323.73 60.54,344.24 72.46,361.75 84.38,373.29 96.31,380.98 108.23,386.53 120.15,391.23 132.07,395.08 143.99,398.50 155.91,402.13 167.83,405.97 179.75,409.60 191.67,412.17 203.59,415.16 215.52,418.36 227.44,421.57 239.36,424.65 251.28,427.55 263.20,429.60" fill="none" stroke="#ff33dd" stroke-width="1.00" stroke-linejoin="round"/>
<path d="M35.20 298.94L38.20 298.94L36.70 301.64Z" fill="#ff33dd"/>
<path d="M47.12 322.53L50.12 322.53L48.62 325.23Z" fill="#ff33dd"/>
<path d="M59.04 343.04L62.04 343.04L60.54 345.73Z" fill="#ff33dd"/>
<path d="M70.96 360.55L73.96 360.55L72.46 363.25Z" fill="#ff33dd"/>
<path d="M82.89 372.09L85.88 372.09L84.38 374.79Z" fill="#ff33dd"/>
<path d="M94.81 379.78L97.80 379.78L96.31 382.48Z" fill="#ff33dd"/>
<path d="M106.73 385.33L109.72 385.33L108.23 388.03Z" fill="#ff33dd"/>
<path d="M118.65 390.03L121.65 390.03L120.15 392.73Z" fill="#ff33dd"/>
<path d="M130.57 393.88L133.57 393.88L132.07 396.58Z" fill="#ff33dd"/>
<path d="M142.49 397.30L145.49 397.30L143.99 399.99Z" fill="#ff33dd"/>
<path d="M154.41 400.93L157.41 400.93L155.91 403.63Z" fill="#ff33dd"/>
<path d="M166.33 404.77L169.33 404.77L167.83 407.47Z" fill="#ff33dd"/>
<path d="M178.25 408.41L181.25 408.41L179.75 411.10Z" fill="#ff33dd"/>
<path d="M190.18 410.97L193.17 410.97L191.67 413.67Z" fill="#ff33dd"/>
<path d="M202.10 413.96L205.09 413.96L203.59 416.66Z" fill="#ff33dd"/>
<path d="M214.02 417.16L217.01 417.16L215.52 419.86Z" fill="#ff33dd"/>
<path d="M225.94 420.37L228.94 420.37L227.44 423.07Z" fill="#ff33dd"/>
<path d="M237.86 423.45L240.86 423.45L239.36 426.15Z" fill="#ff33dd"/>
<path d="M249.78 426.35L252.78 426.35L251.28 429.05Z" fill="#ff33dd"/>
<path d="M261.70 428.40L264.70 428.40L263.20 431.10Z" fill="#ff33dd"/>
<polyline points="36.70,295.87 48.62,317.75 60.54,334.41 72.46,349.36 84.38,360.47 96.31,369.44 108.23,375.85 120.15,380.98 132.07,384.95 143.99,389.52 155.91,397.64 167.83,401.91 179.75,406.19 191.67,409.60 203.59,413.02 215.52,416.01 227.44,419.43 239.36,423.37 251.28,427.55 263.20,429.60" fill="none" stroke="#c79bf7" stroke-width="1.00" stroke-linejoin="round"/>
<path d="M36.70 294.07L38.50 295.87L36.70 297.67L34.90 295.87Z" fill="#c79bf7"/>
<path d="M48.62 315.95L50.42 317.75L48.62 319.54L46.82 317.75Z" fill="#c79bf7"/>
<path d="M60.54 332.61L62.34 334.41L60.54 336.21L58.74 334.41Z" fill="#c79bf7"/>
<path d="M72.46 347.56L74.26 349.36L72.46 351.16L70.66 349.36Z" fill="#c79bf7"/>
<path d="M84.38 358.67L86.18 360.47L84.38 362.27L82.59 360.47Z" fill="#c79bf7"/>
<path d="M96.31 367.64L98.10 369.44L96.31 371.24L94.51 369.44Z" fill="#c79bf7"/>
<path d="M108.23 374.05L110.02 375.85L108.23 377.65L106.43 375.85Z" fill="#c79bf7"/>
<path d="M120.15 379.18L121.95 380.98L120.15 382.78L118.35 380.98Z" fill="#c79bf7"/>
<path d="M132.07 383.15L133.87 384.95L132.07 386.75L130.27 384.95Z" fill="#c79bf7"/>
<path d="M143.99 387.73L145.79 389.52L143.99 391.32L142.19 389.52Z" fill="#c79bf7"/>
<path d="M155.91 395.84L157.71 397.64L155.91 399.44L154.11 397.64Z" fill="#c79bf7"/>
<path d="M167.83 400.12L169.63 401.91L167.83 403.71L166.03 401.91Z" fill="#c79bf7"/>
<path d="M179.75 404.39L181.55 406.19L179.75 407.99L177.95 406.19Z" fill="#c79bf7"/>
<path d="M191.67 407.81L193.47 409.60L191.67 411.40L189.88 409.60Z" fill="#c79bf7"/>
<path d="M203.59 411.22L205.39 413.02L203.59 414.82L201.80 413.02Z" fill="#c79bf7"/>
<path d="M215.52 414.22L217.31 416.01L215.52 417.81L213.72 416.01Z" fill="#c79bf7"/>
<path d="M227.44 417.63L229.24 419.43L227.44 421.23L225.64 419.43Z" fill="#c79bf7"/>
<path d="M239.36 421.57L241.16 423.37L239.36 425.17L237.56 423.37Z" fill="#c79bf7"/>
<path d="M251.28 425.76L253.08 427.55L251.28 429.35L249.48 427.55Z" fill="#c79bf7"/>
<path d="M263.20 427.80L265.00 429.60L263.20 431.40L261.40 429.60Z" fill="#c79bf7"/>
<polyline points="36.70,294.59 48.62,316.46 60.54,333.13 72.46,348.08 84.38,360.04 96.31,370.30 108.23,380.98 120.15,389.52 132.07,396.53 143.99,399.78 155.91,402.34 167.83,406.19 179.75,410.03 191.67,413.88 203.59,417.30 215.52,420.71 227.44,424.13 239.36,426.79 251.28,428.84 263.20,429.60" fill="none" stroke="#b060cc" stroke-width="1.10" stroke-linejoin="round"/>
<polyline points="36.70,298.01 48.62,319.45 60.54,336.12 72.46,350.64 84.38,361.33 96.31,369.44 108.23,377.13 120.15,384.95 132.07,390.38 143.99,393.37 155.91,398.92 167.83,402.77 179.75,406.61 191.67,409.86 203.59,413.02 215.52,415.16 227.44,418.58 239.36,423.54 251.28,428.41 263.20,429.60" fill="none" stroke="#7a7af0" stroke-width="1.00" stroke-linejoin="round"/>
<path d="M36.70 296.11L37.55 297.15L38.60 298.01L37.55 298.86L36.70 299.91L35.85 298.86L34.80 298.01L35.85 297.15Z" fill="#7a7af0"/>
<path d="M48.62 317.56L49.48 318.60L50.52 319.45L49.48 320.31L48.62 321.35L47.77 320.31L46.72 319.45L47.77 318.60Z" fill="#7a7af0"/>
<path d="M60.54 334.22L61.40 335.26L62.44 336.12L61.40 336.97L60.54 338.02L59.69 336.97L58.64 336.12L59.69 335.26Z" fill="#7a7af0"/>
<path d="M72.46 348.75L73.32 349.79L74.36 350.64L73.32 351.50L72.46 352.54L71.61 351.50L70.56 350.64L71.61 349.79Z" fill="#7a7af0"/>
<path d="M84.38 359.43L85.24 360.47L86.28 361.33L85.24 362.18L84.38 363.22L83.53 362.18L82.49 361.33L83.53 360.47Z" fill="#7a7af0"/>
<path d="M96.31 367.54L97.16 368.59L98.20 369.44L97.16 370.30L96.31 371.34L95.45 370.30L94.41 369.44L95.45 368.59Z" fill="#7a7af0"/>
<path d="M108.23 375.24L109.08 376.28L110.12 377.13L109.08 377.99L108.23 379.03L107.37 377.99L106.33 377.13L107.37 376.28Z" fill="#7a7af0"/>
<path d="M120.15 383.05L121.00 384.10L122.05 384.95L121.00 385.81L120.15 386.85L119.29 385.81L118.25 384.95L119.29 384.10Z" fill="#7a7af0"/>
<path d="M132.07 388.48L132.92 389.52L133.97 390.38L132.92 391.23L132.07 392.28L131.21 391.23L130.17 390.38L131.21 389.52Z" fill="#7a7af0"/>
<path d="M143.99 391.47L144.84 392.51L145.89 393.37L144.84 394.22L143.99 395.27L143.14 394.22L142.09 393.37L143.14 392.51Z" fill="#7a7af0"/>
<path d="M155.91 397.03L156.76 398.07L157.81 398.92L156.76 399.78L155.91 400.82L155.06 399.78L154.01 398.92L155.06 398.07Z" fill="#7a7af0"/>
<path d="M167.83 400.87L168.69 401.91L169.73 402.77L168.69 403.62L167.83 404.67L166.98 403.62L165.93 402.77L166.98 401.91Z" fill="#7a7af0"/>
<path d="M179.75 404.72L180.61 405.76L181.65 406.61L180.61 407.47L179.75 408.51L178.90 407.47L177.85 406.61L178.90 405.76Z" fill="#7a7af0"/>
<path d="M191.67 407.96L192.53 409.01L193.57 409.86L192.53 410.72L191.67 411.76L190.82 410.72L189.78 409.86L190.82 409.01Z" fill="#7a7af0"/>
<path d="M203.59 411.12L204.45 412.17L205.49 413.02L204.45 413.88L203.59 414.92L202.74 413.88L201.70 413.02L202.74 412.17Z" fill="#7a7af0"/>
<path d="M215.52 413.26L216.37 414.30L217.41 415.16L216.37 416.01L215.52 417.06L214.66 416.01L213.62 415.16L214.66 414.30Z" fill="#7a7af0"/>
<path d="M227.44 416.68L228.29 417.72L229.34 418.58L228.29 419.43L227.44 420.48L226.58 419.43L225.54 418.58L226.58 417.72Z" fill="#7a7af0"/>
<path d="M239.36 421.64L240.21 422.69L241.26 423.54L240.21 424.40L239.36 425.44L238.50 424.40L237.46 423.54L238.50 422.69Z" fill="#7a7af0"/>
<path d="M251.28 426.51L252.13 427.55L253.18 428.41L252.13 429.26L251.28 430.31L250.42 429.26L249.38 428.41L250.42 427.55Z" fill="#7a7af0"/>
<path d="M263.20 427.70L264.05 428.75L265.10 429.60L264.05 430.45L263.20 431.50L262.35 430.45L261.30 429.60L262.35 428.75Z" fill="#7a7af0"/>
<polyline points="36.70,298.86 48.62,322.02 60.54,339.96 72.46,355.77 84.38,367.95 96.31,380.34 108.23,387.39 120.15,392.09 132.07,395.93 143.99,399.78 155.91,403.20 167.83,407.04 179.75,410.89 191.67,414.73 203.59,418.58 215.52,422.21 227.44,424.99 239.36,427.05 251.28,428.84 263.20,429.60" fill="none" stroke="#e0104f" stroke-width="1.15" stroke-linejoin="round"/>
<circle cx="36.70" cy="298.86" r="1.75" fill="#e0104f"/>
<circle cx="48.62" cy="322.02" r="1.75" fill="#e0104f"/>
<circle cx="60.54" cy="339.96" r="1.75" fill="#e0104f"/>
<circle cx="72.46" cy="355.77" r="1.75" fill="#e0104f"/>
<circle cx="84.38" cy="367.95" r="1.75" fill="#e0104f"/>
<circle cx="96.31" cy="380.34" r="1.75" fill="#e0104f"/>
<circle cx="108.23" cy="387.39" r="1.75" fill="#e0104f"/>
<circle cx="120.15" cy="392.09" r="1.75" fill="#e0104f"/>
<circle cx="132.07" cy="395.93" r="1.75" fill="#e0104f"/>
<circle cx="143.99" cy="399.78" r="1.75" fill="#e0104f"/>
<circle cx="155.91" cy="403.20" r="1.75" fill="#e0104f"/>
<circle cx="167.83" cy="407.04" r="1.75" fill="#e0104f"/>
<circle cx="179.75" cy="410.89" r="1.75" fill="#e0104f"/>
<circle cx="191.67" cy="414.73" r="1.75" fill="#e0104f"/>
<circle cx="203.59" cy="418.58" r="1.75" fill="#e0104f"/>
<circle cx="215.52" cy="422.21" r="1.75" fill="#e0104f"/>
<circle cx="227.44" cy="424.99" r="1.75" fill="#e0104f"/>
<circle cx="239.36" cy="427.05" r="1.75" fill="#e0104f"/>
<circle cx="251.28" cy="428.84" r="1.75" fill="#e0104f"/>
<circle cx="263.20" cy="429.60" r="1.75" fill="#e0104f"/>
<polyline points="36.70,279.21 48.62,300.66 60.54,312.62 72.46,321.59 84.38,328.60 96.31,335.26 108.23,341.67 120.15,348.08 132.07,354.06 143.99,360.26 155.91,367.05 167.83,373.42 179.75,380.34 191.67,387.39 203.59,394.44 215.52,400.93 227.44,408.32 239.36,416.11 251.28,424.26 263.20,429.60" fill="none" stroke="#f5a81e" stroke-width="1.20" stroke-linejoin="round"/>
<polyline points="36.70,277.07 48.62,298.09 60.54,308.35 72.46,317.32 84.38,325.18 96.31,331.97 108.23,338.68 120.15,344.83 132.07,351.50 143.99,357.91 155.91,364.32 167.83,370.94 179.75,377.56 191.67,384.40 203.59,391.66 215.52,399.35 227.44,406.61 239.36,414.40 251.28,422.85 263.20,429.60" fill="none" stroke="#7b92d8" stroke-width="0.95" stroke-linejoin="round"/>
<path d="M35.20 275.87L38.20 275.87L36.70 278.57Z" fill="#7b92d8"/>
<path d="M47.12 296.89L50.12 296.89L48.62 299.59Z" fill="#7b92d8"/>
<path d="M59.04 307.15L62.04 307.15L60.54 309.85Z" fill="#7b92d8"/>
<path d="M70.96 316.12L73.96 316.12L72.46 318.82Z" fill="#7b92d8"/>
<path d="M82.89 323.98L85.88 323.98L84.38 326.68Z" fill="#7b92d8"/>
<path d="M94.81 330.77L97.80 330.77L96.31 333.47Z" fill="#7b92d8"/>
<path d="M106.73 337.48L109.72 337.48L108.23 340.18Z" fill="#7b92d8"/>
<path d="M118.65 343.63L121.65 343.63L120.15 346.33Z" fill="#7b92d8"/>
<path d="M130.57 350.30L133.57 350.30L132.07 353.00Z" fill="#7b92d8"/>
<path d="M142.49 356.71L145.49 356.71L143.99 359.41Z" fill="#7b92d8"/>
<path d="M154.41 363.12L157.41 363.12L155.91 365.81Z" fill="#7b92d8"/>
<path d="M166.33 369.74L169.33 369.74L167.83 372.44Z" fill="#7b92d8"/>
<path d="M178.25 376.36L181.25 376.36L179.75 379.06Z" fill="#7b92d8"/>
<path d="M190.18 383.20L193.17 383.20L191.67 385.90Z" fill="#7b92d8"/>
<path d="M202.10 390.46L205.09 390.46L203.59 393.16Z" fill="#7b92d8"/>
<path d="M214.02 398.15L217.01 398.15L215.52 400.85Z" fill="#7b92d8"/>
<path d="M225.94 405.42L228.94 405.42L227.44 408.11Z" fill="#7b92d8"/>
<path d="M237.86 413.20L240.86 413.20L239.36 415.90Z" fill="#7b92d8"/>
<path d="M249.78 421.66L252.78 421.66L251.28 424.35Z" fill="#7b92d8"/>
<path d="M261.70 428.40L264.70 428.40L263.20 431.10Z" fill="#7b92d8"/>
<polyline points="36.70,273.65 48.62,295.10 60.54,303.22 72.46,310.91 84.38,316.89 96.31,322.45 108.23,327.79 120.15,333.68 132.07,339.96 143.99,347.23 155.91,354.92 167.83,361.97 179.75,369.44 191.67,377.35 203.59,385.25 215.52,394.44 227.44,403.20 239.36,412.26 251.28,421.57 263.20,429.60" fill="none" stroke="#6aaa1e" stroke-width="1.15" stroke-linejoin="round"/>
<circle cx="36.70" cy="273.65" r="1.55" fill="#6aaa1e"/>
<circle cx="48.62" cy="295.10" r="1.55" fill="#6aaa1e"/>
<circle cx="60.54" cy="303.22" r="1.55" fill="#6aaa1e"/>
<circle cx="72.46" cy="310.91" r="1.55" fill="#6aaa1e"/>
<circle cx="84.38" cy="316.89" r="1.55" fill="#6aaa1e"/>
<circle cx="96.31" cy="322.45" r="1.55" fill="#6aaa1e"/>
<circle cx="108.23" cy="327.79" r="1.55" fill="#6aaa1e"/>
<circle cx="120.15" cy="333.68" r="1.55" fill="#6aaa1e"/>
<circle cx="132.07" cy="339.96" r="1.55" fill="#6aaa1e"/>
<circle cx="143.99" cy="347.23" r="1.55" fill="#6aaa1e"/>
<circle cx="155.91" cy="354.92" r="1.55" fill="#6aaa1e"/>
<circle cx="167.83" cy="361.97" r="1.55" fill="#6aaa1e"/>
<circle cx="179.75" cy="369.44" r="1.55" fill="#6aaa1e"/>
<circle cx="191.67" cy="377.35" r="1.55" fill="#6aaa1e"/>
<circle cx="203.59" cy="385.25" r="1.55" fill="#6aaa1e"/>
<circle cx="215.52" cy="394.44" r="1.55" fill="#6aaa1e"/>
<circle cx="227.44" cy="403.20" r="1.55" fill="#6aaa1e"/>
<circle cx="239.36" cy="412.26" r="1.55" fill="#6aaa1e"/>
<circle cx="251.28" cy="421.57" r="1.55" fill="#6aaa1e"/>
<circle cx="263.20" cy="429.60" r="1.55" fill="#6aaa1e"/>
<polyline points="36.70,268.95 48.62,289.12 60.54,294.67 72.46,299.37 84.38,304.50 96.31,309.63 108.23,314.76 120.15,320.31 132.07,326.72 143.99,333.98 155.91,342.10 167.83,350.22 179.75,358.76 191.67,367.73 203.59,377.13 215.52,387.39 227.44,398.07 239.36,408.42 251.28,419.86 263.20,429.60" fill="none" stroke="#ff2d78" stroke-width="1.15" stroke-linejoin="round"/>
<circle cx="36.70" cy="268.95" r="1.55" fill="#ff2d78"/>
<circle cx="48.62" cy="289.12" r="1.55" fill="#ff2d78"/>
<circle cx="60.54" cy="294.67" r="1.55" fill="#ff2d78"/>
<circle cx="72.46" cy="299.37" r="1.55" fill="#ff2d78"/>
<circle cx="84.38" cy="304.50" r="1.55" fill="#ff2d78"/>
<circle cx="96.31" cy="309.63" r="1.55" fill="#ff2d78"/>
<circle cx="108.23" cy="314.76" r="1.55" fill="#ff2d78"/>
<circle cx="120.15" cy="320.31" r="1.55" fill="#ff2d78"/>
<circle cx="132.07" cy="326.72" r="1.55" fill="#ff2d78"/>
<circle cx="143.99" cy="333.98" r="1.55" fill="#ff2d78"/>
<circle cx="155.91" cy="342.10" r="1.55" fill="#ff2d78"/>
<circle cx="167.83" cy="350.22" r="1.55" fill="#ff2d78"/>
<circle cx="179.75" cy="358.76" r="1.55" fill="#ff2d78"/>
<circle cx="191.67" cy="367.73" r="1.55" fill="#ff2d78"/>
<circle cx="203.59" cy="377.13" r="1.55" fill="#ff2d78"/>
<circle cx="215.52" cy="387.39" r="1.55" fill="#ff2d78"/>
<circle cx="227.44" cy="398.07" r="1.55" fill="#ff2d78"/>
<circle cx="239.36" cy="408.42" r="1.55" fill="#ff2d78"/>
<circle cx="251.28" cy="419.86" r="1.55" fill="#ff2d78"/>
<circle cx="263.20" cy="429.60" r="1.55" fill="#ff2d78"/>
</g>
<line x1="36.70" y1="258.20" x2="36.70" y2="438.75" stroke="#8c8c8c" stroke-width="0.9"/>
<line x1="36.10" y1="438.14" x2="263.70" y2="438.14" stroke="#8c8c8c" stroke-width="0.9"/>
<line x1="36.70" y1="438.14" x2="36.70" y2="439.94" stroke="#9a9a9a" stroke-width="0.8"/>
<text x="36.70" y="447.74" font-size="8.84" text-anchor="middle">0.0</text>
<line x1="82.00" y1="438.14" x2="82.00" y2="439.94" stroke="#9a9a9a" stroke-width="0.8"/>
<text x="82.00" y="447.74" font-size="8.84" text-anchor="middle">0.2</text>
<line x1="127.30" y1="438.14" x2="127.30" y2="439.94" stroke="#9a9a9a" stroke-width="0.8"/>
<text x="127.30" y="447.74" font-size="8.84" text-anchor="middle">0.4</text>
<line x1="172.60" y1="438.14" x2="172.60" y2="439.94" stroke="#9a9a9a" stroke-width="0.8"/>
<text x="172.60" y="447.74" font-size="8.84" text-anchor="middle">0.6</text>
<line x1="217.90" y1="438.14" x2="217.90" y2="439.94" stroke="#9a9a9a" stroke-width="0.8"/>
<text x="217.90" y="447.74" font-size="8.84" text-anchor="middle">0.8</text>
<line x1="263.20" y1="438.14" x2="263.20" y2="439.94" stroke="#9a9a9a" stroke-width="0.8"/>
<text x="263.20" y="447.74" font-size="8.84" text-anchor="middle">1.0</text>
<line x1="34.90" y1="429.60" x2="36.70" y2="429.60" stroke="#9a9a9a" stroke-width="0.8"/>
<text x="34.00" y="432.50" font-size="8.84" text-anchor="end">0.60</text>
<line x1="34.90" y1="408.24" x2="36.70" y2="408.24" stroke="#9a9a9a" stroke-width="0.8"/>
<text x="34.00" y="411.13" font-size="8.84" text-anchor="end">0.65</text>
<line x1="34.90" y1="386.88" x2="36.70" y2="386.88" stroke="#9a9a9a" stroke-width="0.8"/>
<text x="34.00" y="389.77" font-size="8.84" text-anchor="end">0.70</text>
<line x1="34.90" y1="365.51" x2="36.70" y2="365.51" stroke="#9a9a9a" stroke-width="0.8"/>
<text x="34.00" y="368.41" font-size="8.84" text-anchor="end">0.75</text>
<line x1="34.90" y1="344.15" x2="36.70" y2="344.15" stroke="#9a9a9a" stroke-width="0.8"/>
<text x="34.00" y="347.05" font-size="8.84" text-anchor="end">0.80</text>
<line x1="34.90" y1="322.79" x2="36.70" y2="322.79" stroke="#9a9a9a" stroke-width="0.8"/>
<text x="34.00" y="325.68" font-size="8.84" text-anchor="end">0.85</text>
<line x1="34.90" y1="301.42" x2="36.70" y2="301.42" stroke="#9a9a9a" stroke-width="0.8"/>
<text x="34.00" y="304.32" font-size="8.84" text-anchor="end">0.90</text>
<line x1="34.90" y1="280.06" x2="36.70" y2="280.06" stroke="#9a9a9a" stroke-width="0.8"/>
<text x="34.00" y="282.96" font-size="8.84" text-anchor="end">0.95</text>
<line x1="34.90" y1="258.70" x2="36.70" y2="258.70" stroke="#9a9a9a" stroke-width="0.8"/>
<text x="34.00" y="261.60" font-size="8.84" text-anchor="end">1.00</text>
<text x="149.95" y="456.93" font-size="8.84" font-weight="bold" text-anchor="middle" fill="#111">Recall</text>
<text transform="translate(15.12,348.42) rotate(-90)" font-size="8.84" font-weight="bold" text-anchor="middle" fill="#111">Precision</text>
<rect x="214.74" y="260.50" width="46.66" height="153.26" fill="#fff" fill-opacity="0.84" stroke="#e4e4e4" stroke-width="0.6"/>
<line x1="216.44" y1="267.39" x2="225.23" y2="267.39" stroke="#ff2d78" stroke-width="0.98"/>
<circle cx="220.84" cy="267.39" r="1.32" fill="#ff2d78"/>
<text x="228.03" y="268.84" font-size="8.84">DVSH</text>
<line x1="216.44" y1="277.52" x2="225.23" y2="277.52" stroke="#ff33dd" stroke-width="0.85"/>
<path d="M219.56 276.50L222.11 276.50L220.84 278.80Z" fill="#ff33dd"/>
<text x="228.03" y="278.97" font-size="8.84">DRSCH</text>
<line x1="216.44" y1="287.65" x2="225.23" y2="287.65" stroke="#ff9a2e" stroke-width="0.85"/>
<path d="M220.84 286.13L222.37 287.65L220.84 289.18L219.31 287.65Z" fill="#ff9a2e"/>
<text x="228.03" y="289.10" font-size="8.84">DSRH</text>
<line x1="216.44" y1="297.79" x2="225.23" y2="297.79" stroke="#1fbfff" stroke-width="0.89"/>
<path d="M221.99 296.34L221.99 299.23L219.39 297.79Z" fill="#1fbfff"/>
<text x="228.03" y="299.23" font-size="8.84">DNNH</text>
<line x1="216.44" y1="307.92" x2="225.23" y2="307.92" stroke="#2f7bf5" stroke-width="0.93"/>
<text x="228.03" y="309.37" font-size="8.84">CNNH+</text>
<line x1="216.44" y1="318.05" x2="225.23" y2="318.05" stroke="#b060cc" stroke-width="0.93"/>
<text x="228.03" y="319.50" font-size="8.84">DSH</text>
<line x1="216.44" y1="328.18" x2="225.23" y2="328.18" stroke="#e0104f" stroke-width="0.98"/>
<circle cx="220.84" cy="328.18" r="1.49" fill="#e0104f"/>
<text x="228.03" y="329.63" font-size="8.84">DHN</text>
<line x1="216.44" y1="338.31" x2="225.23" y2="338.31" stroke="#c79bf7" stroke-width="0.85"/>
<path d="M220.84 336.78L222.37 338.31L220.84 339.84L219.31 338.31Z" fill="#c79bf7"/>
<text x="228.03" y="339.76" font-size="8.84">IDHN</text>
<line x1="216.44" y1="348.44" x2="225.23" y2="348.44" stroke="#3a3a3a" stroke-width="0.81"/>
<circle cx="220.84" cy="348.44" r="0.93" fill="#3a3a3a"/>
<text x="228.03" y="349.89" font-size="8.84">CSQ</text>
<line x1="216.44" y1="358.57" x2="225.23" y2="358.57" stroke="#77ee66" stroke-width="0.81"/>
<circle cx="220.84" cy="358.57" r="1.10" fill="#77ee66"/>
<text x="228.03" y="360.02" font-size="8.84">ISDH</text>
<line x1="216.44" y1="368.70" x2="225.23" y2="368.70" stroke="#ffa050" stroke-width="0.89"/>
<text x="228.03" y="370.15" font-size="8.84">DSHSD</text>
<line x1="216.44" y1="378.83" x2="225.23" y2="378.83" stroke="#7a7af0" stroke-width="0.85"/>
<path d="M220.84 377.22L221.56 378.11L222.45 378.83L221.56 379.56L220.84 380.45L220.11 379.56L219.22 378.83L220.11 378.11Z" fill="#7a7af0"/>
<text x="228.03" y="380.28" font-size="8.84">SuBiC</text>
<line x1="216.44" y1="388.96" x2="225.23" y2="388.96" stroke="#f5a81e" stroke-width="1.02"/>
<text x="228.03" y="390.41" font-size="8.84">MVL</text>
<line x1="216.44" y1="399.10" x2="225.23" y2="399.10" stroke="#6aaa1e" stroke-width="0.98"/>
<circle cx="220.84" cy="399.10" r="1.32" fill="#6aaa1e"/>
<text x="228.03" y="400.54" font-size="8.84">UDHNR</text>
<line x1="216.44" y1="409.23" x2="225.23" y2="409.23" stroke="#7b92d8" stroke-width="0.81"/>
<path d="M219.56 408.21L222.11 408.21L220.84 410.50Z" fill="#7b92d8"/>
<text x="228.03" y="410.68" font-size="8.84">VTDH</text>
<text x="140.00" y="476.90" font-size="11.6" text-anchor="middle" fill="#111">(<tspan font-weight="bold">c</tspan>)</text>
</g>
<g>
<line x1="308.80" y1="259.80" x2="308.80" y2="439.14" stroke="#eaeaea" stroke-width="0.7"/>
<line x1="354.20" y1="259.80" x2="354.20" y2="439.14" stroke="#eaeaea" stroke-width="0.7"/>
<line x1="399.60" y1="259.80" x2="399.60" y2="439.14" stroke="#eaeaea" stroke-width="0.7"/>
<line x1="445.00" y1="259.80" x2="445.00" y2="439.14" stroke="#eaeaea" stroke-width="0.7"/>
<line x1="490.40" y1="259.80" x2="490.40" y2="439.14" stroke="#eaeaea" stroke-width="0.7"/>
<line x1="535.80" y1="259.80" x2="535.80" y2="439.14" stroke="#eaeaea" stroke-width="0.7"/>
<line x1="308.80" y1="430.60" x2="535.80" y2="430.60" stroke="#eaeaea" stroke-width="0.7"/>
<line x1="308.80" y1="409.25" x2="535.80" y2="409.25" stroke="#eaeaea" stroke-width="0.7"/>
<line x1="308.80" y1="387.90" x2="535.80" y2="387.90" stroke="#eaeaea" stroke-width="0.7"/>
<line x1="308.80" y1="366.55" x2="535.80" y2="366.55" stroke="#eaeaea" stroke-width="0.7"/>
<line x1="308.80" y1="345.20" x2="535.80" y2="345.20" stroke="#eaeaea" stroke-width="0.7"/>
<line x1="308.80" y1="323.85" x2="535.80" y2="323.85" stroke="#eaeaea" stroke-width="0.7"/>
<line x1="308.80" y1="302.50" x2="535.80" y2="302.50" stroke="#eaeaea" stroke-width="0.7"/>
<line x1="308.80" y1="281.15" x2="535.80" y2="281.15" stroke="#eaeaea" stroke-width="0.7"/>
<line x1="308.80" y1="259.80" x2="535.80" y2="259.80" stroke="#eaeaea" stroke-width="0.7"/>
<clipPath id="clipd"><rect x="308.60" y="255.80" width="227.50" height="183.34"/></clipPath>
<g clip-path="url(#clipd)">
<polyline points="308.80,298.23 320.75,321.72 332.69,338.79 344.64,355.02 356.59,366.55 368.54,377.23 380.48,384.91 392.43,390.89 404.38,396.44 416.33,401.56 428.27,406.26 440.22,410.10 452.17,413.52 464.12,416.51 476.06,419.07 488.01,421.21 499.96,423.34 511.91,425.74 523.85,428.38 535.80,430.60" fill="none" stroke="#ffa050" stroke-width="1.05" stroke-linejoin="round"/>
<polyline points="308.80,299.51 320.75,322.57 332.69,340.08 344.64,353.74 356.59,364.54 368.54,375.52 380.48,383.84 392.43,391.74 404.38,398.57 416.33,403.91 428.27,408.52 440.22,412.67 452.17,415.66 464.12,418.00 476.06,419.93 488.01,421.85 499.96,423.77 511.91,426.17 523.85,428.81 535.80,430.60" fill="none" stroke="#ff9a2e" stroke-width="1.00" stroke-linejoin="round"/>
<path d="M308.80 297.71L310.60 299.51L308.80 301.31L307.00 299.51Z" fill="#ff9a2e"/>
<path d="M320.75 320.77L322.55 322.57L320.75 324.37L318.94 322.57Z" fill="#ff9a2e"/>
<path d="M332.69 338.27L334.50 340.08L332.69 341.88L330.89 340.08Z" fill="#ff9a2e"/>
<path d="M344.64 351.94L346.44 353.74L344.64 355.54L342.84 353.74Z" fill="#ff9a2e"/>
<path d="M356.59 362.74L358.39 364.54L356.59 366.35L354.79 364.54Z" fill="#ff9a2e"/>
<path d="M368.54 373.71L370.34 375.52L368.54 377.32L366.73 375.52Z" fill="#ff9a2e"/>
<path d="M380.48 382.04L382.29 383.84L380.48 385.65L378.68 383.84Z" fill="#ff9a2e"/>
<path d="M392.43 389.94L394.23 391.74L392.43 393.55L390.63 391.74Z" fill="#ff9a2e"/>
<path d="M404.38 396.77L406.18 398.57L404.38 400.38L402.58 398.57Z" fill="#ff9a2e"/>
<path d="M416.33 402.11L418.13 403.91L416.33 405.71L414.52 403.91Z" fill="#ff9a2e"/>
<path d="M428.27 406.72L430.08 408.52L428.27 410.33L426.47 408.52Z" fill="#ff9a2e"/>
<path d="M440.22 410.86L442.02 412.67L440.22 414.47L438.42 412.67Z" fill="#ff9a2e"/>
<path d="M452.17 413.85L453.97 415.66L452.17 417.46L450.37 415.66Z" fill="#ff9a2e"/>
<path d="M464.12 416.20L465.92 418.00L464.12 419.81L462.31 418.00Z" fill="#ff9a2e"/>
<path d="M476.06 418.12L477.87 419.93L476.06 421.73L474.26 419.93Z" fill="#ff9a2e"/>
<path d="M488.01 420.04L489.81 421.85L488.01 423.65L486.21 421.85Z" fill="#ff9a2e"/>
<path d="M499.96 421.97L501.76 423.77L499.96 425.57L498.16 423.77Z" fill="#ff9a2e"/>
<path d="M511.91 424.36L513.71 426.17L511.91 427.97L510.10 426.17Z" fill="#ff9a2e"/>
<path d="M523.85 427.01L525.66 428.81L523.85 430.61L522.05 428.81Z" fill="#ff9a2e"/>
<path d="M535.80 428.80L537.60 430.60L535.80 432.40L534.00 430.60Z" fill="#ff9a2e"/>
<polyline points="308.80,322.14 320.75,350.75 332.69,368.26 344.64,378.93 356.59,384.91 368.54,390.89 380.48,394.73 392.43,398.15 404.38,400.71 416.33,403.91 428.27,407.12 440.22,409.85 452.17,413.09 464.12,415.40 476.06,417.79 488.01,420.35 499.96,422.91 511.91,425.74 523.85,428.38 535.80,430.60" fill="none" stroke="#2f7bf5" stroke-width="1.10" stroke-linejoin="round"/>
<polyline points="308.80,284.57 320.75,311.47 332.69,329.40 344.64,343.49 356.59,353.53 368.54,360.57 380.48,367.40 392.43,373.38 404.38,380.00 416.33,386.19 428.27,392.60 440.22,397.46 452.17,402.25 464.12,406.43 476.06,410.53 488.01,414.80 499.96,418.77 511.91,422.75 523.85,427.10 535.80,430.60" fill="none" stroke="#3a3a3a" stroke-width="0.95" stroke-linejoin="round"/>
<circle cx="308.80" cy="284.57" r="1.10" fill="#3a3a3a"/>
<circle cx="320.75" cy="311.47" r="1.10" fill="#3a3a3a"/>
<circle cx="332.69" cy="329.40" r="1.10" fill="#3a3a3a"/>
<circle cx="344.64" cy="343.49" r="1.10" fill="#3a3a3a"/>
<circle cx="356.59" cy="353.53" r="1.10" fill="#3a3a3a"/>
<circle cx="368.54" cy="360.57" r="1.10" fill="#3a3a3a"/>
<circle cx="380.48" cy="367.40" r="1.10" fill="#3a3a3a"/>
<circle cx="392.43" cy="373.38" r="1.10" fill="#3a3a3a"/>
<circle cx="404.38" cy="380.00" r="1.10" fill="#3a3a3a"/>
<circle cx="416.33" cy="386.19" r="1.10" fill="#3a3a3a"/>
<circle cx="428.27" cy="392.60" r="1.10" fill="#3a3a3a"/>
<circle cx="440.22" cy="397.46" r="1.10" fill="#3a3a3a"/>
<circle cx="452.17" cy="402.25" r="1.10" fill="#3a3a3a"/>
<circle cx="464.12" cy="406.43" r="1.10" fill="#3a3a3a"/>
<circle cx="476.06" cy="410.53" r="1.10" fill="#3a3a3a"/>
<circle cx="488.01" cy="414.80" r="1.10" fill="#3a3a3a"/>
<circle cx="499.96" cy="418.77" r="1.10" fill="#3a3a3a"/>
<circle cx="511.91" cy="422.75" r="1.10" fill="#3a3a3a"/>
<circle cx="523.85" cy="427.10" r="1.10" fill="#3a3a3a"/>
<circle cx="535.80" cy="430.60" r="1.10" fill="#3a3a3a"/>
<polyline points="308.80,302.07 320.75,327.27 332.69,347.33 344.64,363.56 356.59,375.52 368.54,382.35 380.48,386.19 392.43,388.33 404.38,390.89 416.33,393.02 428.27,395.16 440.22,399.00 452.17,402.85 464.12,406.69 476.06,410.53 488.01,414.80 499.96,418.64 511.91,422.75 523.85,427.10 535.80,430.60" fill="none" stroke="#1fbfff" stroke-width="1.05" stroke-linejoin="round"/>
<path d="M310.16 300.37L310.16 303.78L307.10 302.07Z" fill="#1fbfff"/>
<path d="M322.11 325.56L322.11 328.97L319.05 327.27Z" fill="#1fbfff"/>
<path d="M334.06 345.63L334.06 349.04L330.99 347.33Z" fill="#1fbfff"/>
<path d="M346.00 361.86L346.00 365.26L342.94 363.56Z" fill="#1fbfff"/>
<path d="M357.95 373.81L357.95 377.22L354.89 375.52Z" fill="#1fbfff"/>
<path d="M369.90 380.65L369.90 384.05L366.83 382.35Z" fill="#1fbfff"/>
<path d="M381.85 384.49L381.85 387.89L378.78 386.19Z" fill="#1fbfff"/>
<path d="M393.79 386.62L393.79 390.03L390.73 388.33Z" fill="#1fbfff"/>
<path d="M405.74 389.19L405.74 392.59L402.68 390.89Z" fill="#1fbfff"/>
<path d="M417.69 391.32L417.69 394.73L414.62 393.02Z" fill="#1fbfff"/>
<path d="M429.64 393.46L429.64 396.86L426.57 395.16Z" fill="#1fbfff"/>
<path d="M441.58 397.30L441.58 400.70L438.52 399.00Z" fill="#1fbfff"/>
<path d="M453.53 401.14L453.53 404.55L450.47 402.85Z" fill="#1fbfff"/>
<path d="M465.48 404.99L465.48 408.39L462.41 406.69Z" fill="#1fbfff"/>
<path d="M477.42 408.83L477.42 412.23L474.36 410.53Z" fill="#1fbfff"/>
<path d="M489.37 413.10L489.37 416.50L486.31 414.80Z" fill="#1fbfff"/>
<path d="M501.32 416.94L501.32 420.35L498.26 418.64Z" fill="#1fbfff"/>
<path d="M513.27 421.05L513.27 424.45L510.20 422.75Z" fill="#1fbfff"/>
<path d="M525.21 425.40L525.21 428.80L522.15 427.10Z" fill="#1fbfff"/>
<path d="M537.16 428.90L537.16 432.30L534.10 430.60Z" fill="#1fbfff"/>
<polyline points="308.80,287.13 320.75,308.91 332.69,325.13 344.64,337.30 356.59,350.75 368.54,361.85 380.48,370.82 392.43,379.79 404.38,387.05 416.33,390.89 428.27,394.31 440.22,398.40 452.17,402.25 464.12,406.26 476.06,410.10 488.01,414.37 499.96,418.22 511.91,421.90 523.85,426.25 535.80,430.60" fill="none" stroke="#77ee66" stroke-width="0.95" stroke-linejoin="round"/>
<circle cx="308.80" cy="287.13" r="1.30" fill="#77ee66"/>
<circle cx="320.75" cy="308.91" r="1.30" fill="#77ee66"/>
<circle cx="332.69" cy="325.13" r="1.30" fill="#77ee66"/>
<circle cx="344.64" cy="337.30" r="1.30" fill="#77ee66"/>
<circle cx="356.59" cy="350.75" r="1.30" fill="#77ee66"/>
<circle cx="368.54" cy="361.85" r="1.30" fill="#77ee66"/>
<circle cx="380.48" cy="370.82" r="1.30" fill="#77ee66"/>
<circle cx="392.43" cy="379.79" r="1.30" fill="#77ee66"/>
<circle cx="404.38" cy="387.05" r="1.30" fill="#77ee66"/>
<circle cx="416.33" cy="390.89" r="1.30" fill="#77ee66"/>
<circle cx="428.27" cy="394.31" r="1.30" fill="#77ee66"/>
<circle cx="440.22" cy="398.40" r="1.30" fill="#77ee66"/>
<circle cx="452.17" cy="402.25" r="1.30" fill="#77ee66"/>
<circle cx="464.12" cy="406.26" r="1.30" fill="#77ee66"/>
<circle cx="476.06" cy="410.10" r="1.30" fill="#77ee66"/>
<circle cx="488.01" cy="414.37" r="1.30" fill="#77ee66"/>
<circle cx="499.96" cy="418.22" r="1.30" fill="#77ee66"/>
<circle cx="511.91" cy="421.90" r="1.30" fill="#77ee66"/>
<circle cx="523.85" cy="426.25" r="1.30" fill="#77ee66"/>
<circle cx="535.80" cy="430.60" r="1.30" fill="#77ee66"/>
<polyline points="308.80,298.66 320.75,323.42 332.69,343.92 344.64,361.43 356.59,372.96 368.54,380.64 380.48,386.19 392.43,390.89 404.38,394.73 416.33,398.15 428.27,401.78 440.22,405.62 452.17,409.25 464.12,411.81 476.06,414.80 488.01,418.00 499.96,421.21 511.91,424.46 523.85,427.96 535.80,430.60" fill="none" stroke="#ff33dd" stroke-width="1.00" stroke-linejoin="round"/>
<path d="M307.30 297.46L310.30 297.46L308.80 300.16Z" fill="#ff33dd"/>
<path d="M319.25 322.22L322.25 322.22L320.75 324.92Z" fill="#ff33dd"/>
<path d="M331.19 342.72L334.20 342.72L332.69 345.42Z" fill="#ff33dd"/>
<path d="M343.14 360.22L346.14 360.22L344.64 362.93Z" fill="#ff33dd"/>
<path d="M355.09 371.75L358.09 371.75L356.59 374.46Z" fill="#ff33dd"/>
<path d="M367.03 379.44L370.04 379.44L368.54 382.14Z" fill="#ff33dd"/>
<path d="M378.98 384.99L381.99 384.99L380.48 387.69Z" fill="#ff33dd"/>
<path d="M390.93 389.69L393.93 389.69L392.43 392.39Z" fill="#ff33dd"/>
<path d="M402.88 393.53L405.88 393.53L404.38 396.23Z" fill="#ff33dd"/>
<path d="M414.82 396.95L417.83 396.95L416.33 399.65Z" fill="#ff33dd"/>
<path d="M426.77 400.58L429.78 400.58L428.27 403.28Z" fill="#ff33dd"/>
<path d="M438.72 404.42L441.72 404.42L440.22 407.12Z" fill="#ff33dd"/>
<path d="M450.67 408.05L453.67 408.05L452.17 410.75Z" fill="#ff33dd"/>
<path d="M462.61 410.61L465.62 410.61L464.12 413.31Z" fill="#ff33dd"/>
<path d="M474.56 413.60L477.57 413.60L476.06 416.30Z" fill="#ff33dd"/>
<path d="M486.51 416.80L489.51 416.80L488.01 419.51Z" fill="#ff33dd"/>
<path d="M498.46 420.00L501.46 420.00L499.96 422.71Z" fill="#ff33dd"/>
<path d="M510.40 423.26L513.41 423.26L511.91 425.96Z" fill="#ff33dd"/>
<path d="M522.35 426.75L525.35 426.75L523.85 429.46Z" fill="#ff33dd"/>
<path d="M534.30 429.40L537.30 429.40L535.80 432.10Z" fill="#ff33dd"/>
<polyline points="308.80,294.39 320.75,317.45 332.69,334.10 344.64,349.04 356.59,360.14 368.54,369.11 380.48,375.52 392.43,380.64 404.38,384.61 416.33,389.18 428.27,397.29 440.22,401.56 452.17,405.83 464.12,409.25 476.06,412.67 488.01,415.66 499.96,419.07 511.91,423.18 523.85,427.96 535.80,430.60" fill="none" stroke="#c79bf7" stroke-width="1.00" stroke-linejoin="round"/>
<path d="M308.80 292.58L310.60 294.39L308.80 296.19L307.00 294.39Z" fill="#c79bf7"/>
<path d="M320.75 315.64L322.55 317.45L320.75 319.25L318.94 317.45Z" fill="#c79bf7"/>
<path d="M332.69 332.30L334.50 334.10L332.69 335.90L330.89 334.10Z" fill="#c79bf7"/>
<path d="M344.64 347.24L346.44 349.04L344.64 350.85L342.84 349.04Z" fill="#c79bf7"/>
<path d="M356.59 358.34L358.39 360.14L356.59 361.95L354.79 360.14Z" fill="#c79bf7"/>
<path d="M368.54 367.31L370.34 369.11L368.54 370.91L366.73 369.11Z" fill="#c79bf7"/>
<path d="M380.48 373.71L382.29 375.52L380.48 377.32L378.68 375.52Z" fill="#c79bf7"/>
<path d="M392.43 378.84L394.23 380.64L392.43 382.44L390.63 380.64Z" fill="#c79bf7"/>
<path d="M404.38 382.81L406.18 384.61L404.38 386.41L402.58 384.61Z" fill="#c79bf7"/>
<path d="M416.33 387.38L418.13 389.18L416.33 390.98L414.52 389.18Z" fill="#c79bf7"/>
<path d="M428.27 395.49L430.08 397.29L428.27 399.10L426.47 397.29Z" fill="#c79bf7"/>
<path d="M440.22 399.76L442.02 401.56L440.22 403.37L438.42 401.56Z" fill="#c79bf7"/>
<path d="M452.17 404.03L453.97 405.83L452.17 407.64L450.37 405.83Z" fill="#c79bf7"/>
<path d="M464.12 407.45L465.92 409.25L464.12 411.05L462.31 409.25Z" fill="#c79bf7"/>
<path d="M476.06 410.86L477.87 412.67L476.06 414.47L474.26 412.67Z" fill="#c79bf7"/>
<path d="M488.01 413.85L489.81 415.66L488.01 417.46L486.21 415.66Z" fill="#c79bf7"/>
<path d="M499.96 417.27L501.76 419.07L499.96 420.87L498.16 419.07Z" fill="#c79bf7"/>
<path d="M511.91 421.37L513.71 423.18L511.91 424.98L510.10 423.18Z" fill="#c79bf7"/>
<path d="M523.85 426.15L525.66 427.96L523.85 429.76L522.05 427.96Z" fill="#c79bf7"/>
<path d="M535.80 428.80L537.60 430.60L535.80 432.40L534.00 430.60Z" fill="#c79bf7"/>
<polyline points="308.80,293.11 320.75,316.16 332.69,332.82 344.64,347.76 356.59,359.72 368.54,369.97 380.48,380.64 392.43,389.18 404.38,396.18 416.33,399.43 428.27,401.99 440.22,405.83 452.17,409.68 464.12,413.52 476.06,416.94 488.01,420.35 499.96,423.77 511.91,426.59 523.85,429.24 535.80,430.60" fill="none" stroke="#b060cc" stroke-width="1.10" stroke-linejoin="round"/>
<polyline points="308.80,296.52 320.75,319.15 332.69,335.81 344.64,350.32 356.59,361.00 368.54,369.11 380.48,376.80 392.43,384.61 404.38,390.04 416.33,393.02 428.27,398.57 440.22,402.42 452.17,406.26 464.12,409.51 476.06,412.67 488.01,414.80 499.96,418.22 511.91,423.35 523.85,428.81 535.80,430.60" fill="none" stroke="#7a7af0" stroke-width="1.00" stroke-linejoin="round"/>
<path d="M308.80 294.62L309.66 295.67L310.70 296.52L309.66 297.38L308.80 298.42L307.94 297.38L306.90 296.52L307.94 295.67Z" fill="#7a7af0"/>
<path d="M320.75 317.25L321.60 318.30L322.65 319.15L321.60 320.01L320.75 321.06L319.89 320.01L318.84 319.15L319.89 318.30Z" fill="#7a7af0"/>
<path d="M332.69 333.90L333.55 334.95L334.60 335.81L333.55 336.66L332.69 337.71L331.84 336.66L330.79 335.81L331.84 334.95Z" fill="#7a7af0"/>
<path d="M344.64 348.42L345.50 349.47L346.54 350.32L345.50 351.18L344.64 352.23L343.79 351.18L342.74 350.32L343.79 349.47Z" fill="#7a7af0"/>
<path d="M356.59 359.10L357.45 360.14L358.49 361.00L357.45 361.86L356.59 362.90L355.73 361.86L354.69 361.00L355.73 360.14Z" fill="#7a7af0"/>
<path d="M368.54 367.21L369.39 368.26L370.44 369.11L369.39 369.97L368.54 371.01L367.68 369.97L366.63 369.11L367.68 368.26Z" fill="#7a7af0"/>
<path d="M380.48 374.90L381.34 375.94L382.39 376.80L381.34 377.65L380.48 378.70L379.63 377.65L378.58 376.80L379.63 375.94Z" fill="#7a7af0"/>
<path d="M392.43 382.71L393.29 383.76L394.33 384.61L393.29 385.47L392.43 386.51L391.58 385.47L390.53 384.61L391.58 383.76Z" fill="#7a7af0"/>
<path d="M404.38 388.13L405.24 389.18L406.28 390.04L405.24 390.89L404.38 391.94L403.52 390.89L402.48 390.04L403.52 389.18Z" fill="#7a7af0"/>
<path d="M416.33 391.12L417.18 392.17L418.23 393.02L417.18 393.88L416.33 394.93L415.47 393.88L414.42 393.02L415.47 392.17Z" fill="#7a7af0"/>
<path d="M428.27 396.67L429.13 397.72L430.18 398.57L429.13 399.43L428.27 400.48L427.42 399.43L426.37 398.57L427.42 397.72Z" fill="#7a7af0"/>
<path d="M440.22 400.52L441.08 401.56L442.12 402.42L441.08 403.27L440.22 404.32L439.36 403.27L438.32 402.42L439.36 401.56Z" fill="#7a7af0"/>
<path d="M452.17 404.36L453.02 405.40L454.07 406.26L453.02 407.12L452.17 408.16L451.31 407.12L450.27 406.26L451.31 405.40Z" fill="#7a7af0"/>
<path d="M464.12 407.60L464.97 408.65L466.02 409.51L464.97 410.36L464.12 411.41L463.26 410.36L462.21 409.51L463.26 408.65Z" fill="#7a7af0"/>
<path d="M476.06 410.76L476.92 411.81L477.97 412.67L476.92 413.52L476.06 414.57L475.21 413.52L474.16 412.67L475.21 411.81Z" fill="#7a7af0"/>
<path d="M488.01 412.90L488.87 413.94L489.91 414.80L488.87 415.66L488.01 416.70L487.15 415.66L486.11 414.80L487.15 413.94Z" fill="#7a7af0"/>
<path d="M499.96 416.31L500.81 417.36L501.86 418.22L500.81 419.07L499.96 420.12L499.10 419.07L498.06 418.22L499.10 417.36Z" fill="#7a7af0"/>
<path d="M511.91 421.44L512.76 422.49L513.81 423.35L512.76 424.20L511.91 425.25L511.05 424.20L510.00 423.35L511.05 422.49Z" fill="#7a7af0"/>
<path d="M523.85 426.91L524.71 427.95L525.76 428.81L524.71 429.67L523.85 430.71L523.00 429.67L521.95 428.81L523.00 427.95Z" fill="#7a7af0"/>
<path d="M535.80 428.70L536.66 429.74L537.70 430.60L536.66 431.46L535.80 432.50L534.94 431.46L533.90 430.60L534.94 429.74Z" fill="#7a7af0"/>
<polyline points="308.80,297.38 320.75,321.72 332.69,339.65 344.64,355.45 356.59,367.62 368.54,380.00 380.48,387.05 392.43,391.74 404.38,395.59 416.33,399.43 428.27,402.85 440.22,406.69 452.17,410.53 464.12,414.37 476.06,418.22 488.01,421.85 499.96,424.62 511.91,426.85 523.85,429.24 535.80,430.60" fill="none" stroke="#e0104f" stroke-width="1.15" stroke-linejoin="round"/>
<circle cx="308.80" cy="297.38" r="1.75" fill="#e0104f"/>
<circle cx="320.75" cy="321.72" r="1.75" fill="#e0104f"/>
<circle cx="332.69" cy="339.65" r="1.75" fill="#e0104f"/>
<circle cx="344.64" cy="355.45" r="1.75" fill="#e0104f"/>
<circle cx="356.59" cy="367.62" r="1.75" fill="#e0104f"/>
<circle cx="368.54" cy="380.00" r="1.75" fill="#e0104f"/>
<circle cx="380.48" cy="387.05" r="1.75" fill="#e0104f"/>
<circle cx="392.43" cy="391.74" r="1.75" fill="#e0104f"/>
<circle cx="404.38" cy="395.59" r="1.75" fill="#e0104f"/>
<circle cx="416.33" cy="399.43" r="1.75" fill="#e0104f"/>
<circle cx="428.27" cy="402.85" r="1.75" fill="#e0104f"/>
<circle cx="440.22" cy="406.69" r="1.75" fill="#e0104f"/>
<circle cx="452.17" cy="410.53" r="1.75" fill="#e0104f"/>
<circle cx="464.12" cy="414.37" r="1.75" fill="#e0104f"/>
<circle cx="476.06" cy="418.22" r="1.75" fill="#e0104f"/>
<circle cx="488.01" cy="421.85" r="1.75" fill="#e0104f"/>
<circle cx="499.96" cy="424.62" r="1.75" fill="#e0104f"/>
<circle cx="511.91" cy="426.85" r="1.75" fill="#e0104f"/>
<circle cx="523.85" cy="429.24" r="1.75" fill="#e0104f"/>
<circle cx="535.80" cy="430.60" r="1.75" fill="#e0104f"/>
<polyline points="308.80,277.73 320.75,300.37 332.69,312.32 344.64,321.29 356.59,328.29 368.54,334.95 380.48,341.36 392.43,347.76 404.38,353.74 416.33,359.93 428.27,366.72 440.22,373.08 452.17,380.00 464.12,387.05 476.06,394.09 488.01,400.58 499.96,407.97 511.91,415.92 523.85,424.67 535.80,430.60" fill="none" stroke="#f5a81e" stroke-width="1.20" stroke-linejoin="round"/>
<polyline points="308.80,275.60 320.75,297.80 332.69,308.05 344.64,317.02 356.59,324.87 368.54,331.66 380.48,338.37 392.43,344.52 404.38,351.18 416.33,357.58 428.27,363.99 440.22,370.61 452.17,377.23 464.12,384.06 476.06,391.32 488.01,399.00 499.96,406.26 511.91,414.21 523.85,423.26 535.80,430.60" fill="none" stroke="#7b92d8" stroke-width="0.95" stroke-linejoin="round"/>
<path d="M307.30 274.40L310.30 274.40L308.80 277.10Z" fill="#7b92d8"/>
<path d="M319.25 296.60L322.25 296.60L320.75 299.30Z" fill="#7b92d8"/>
<path d="M331.19 306.85L334.20 306.85L332.69 309.55Z" fill="#7b92d8"/>
<path d="M343.14 315.82L346.14 315.82L344.64 318.52Z" fill="#7b92d8"/>
<path d="M355.09 323.67L358.09 323.67L356.59 326.38Z" fill="#7b92d8"/>
<path d="M367.03 330.46L370.04 330.46L368.54 333.17Z" fill="#7b92d8"/>
<path d="M378.98 337.17L381.99 337.17L380.48 339.87Z" fill="#7b92d8"/>
<path d="M390.93 343.32L393.93 343.32L392.43 346.02Z" fill="#7b92d8"/>
<path d="M402.88 349.98L405.88 349.98L404.38 352.68Z" fill="#7b92d8"/>
<path d="M414.82 356.38L417.83 356.38L416.33 359.08Z" fill="#7b92d8"/>
<path d="M426.77 362.79L429.78 362.79L428.27 365.49Z" fill="#7b92d8"/>
<path d="M438.72 369.40L441.72 369.40L440.22 372.11Z" fill="#7b92d8"/>
<path d="M450.67 376.02L453.67 376.02L452.17 378.73Z" fill="#7b92d8"/>
<path d="M462.61 382.86L465.62 382.86L464.12 385.56Z" fill="#7b92d8"/>
<path d="M474.56 390.11L477.57 390.11L476.06 392.82Z" fill="#7b92d8"/>
<path d="M486.51 397.80L489.51 397.80L488.01 400.50Z" fill="#7b92d8"/>
<path d="M498.46 405.06L501.46 405.06L499.96 407.76Z" fill="#7b92d8"/>
<path d="M510.40 413.01L513.41 413.01L511.91 415.71Z" fill="#7b92d8"/>
<path d="M522.35 422.06L525.35 422.06L523.85 424.76Z" fill="#7b92d8"/>
<path d="M534.30 429.40L537.30 429.40L535.80 432.10Z" fill="#7b92d8"/>
<polyline points="308.80,272.18 320.75,294.81 332.69,302.93 344.64,310.61 356.59,316.59 368.54,322.14 380.48,327.48 392.43,333.37 404.38,339.65 416.33,346.91 428.27,354.59 440.22,361.64 452.17,369.11 464.12,377.01 476.06,384.91 488.01,394.09 499.96,402.85 511.91,412.07 523.85,421.98 535.80,430.60" fill="none" stroke="#6aaa1e" stroke-width="1.15" stroke-linejoin="round"/>
<circle cx="308.80" cy="272.18" r="1.55" fill="#6aaa1e"/>
<circle cx="320.75" cy="294.81" r="1.55" fill="#6aaa1e"/>
<circle cx="332.69" cy="302.93" r="1.55" fill="#6aaa1e"/>
<circle cx="344.64" cy="310.61" r="1.55" fill="#6aaa1e"/>
<circle cx="356.59" cy="316.59" r="1.55" fill="#6aaa1e"/>
<circle cx="368.54" cy="322.14" r="1.55" fill="#6aaa1e"/>
<circle cx="380.48" cy="327.48" r="1.55" fill="#6aaa1e"/>
<circle cx="392.43" cy="333.37" r="1.55" fill="#6aaa1e"/>
<circle cx="404.38" cy="339.65" r="1.55" fill="#6aaa1e"/>
<circle cx="416.33" cy="346.91" r="1.55" fill="#6aaa1e"/>
<circle cx="428.27" cy="354.59" r="1.55" fill="#6aaa1e"/>
<circle cx="440.22" cy="361.64" r="1.55" fill="#6aaa1e"/>
<circle cx="452.17" cy="369.11" r="1.55" fill="#6aaa1e"/>
<circle cx="464.12" cy="377.01" r="1.55" fill="#6aaa1e"/>
<circle cx="476.06" cy="384.91" r="1.55" fill="#6aaa1e"/>
<circle cx="488.01" cy="394.09" r="1.55" fill="#6aaa1e"/>
<circle cx="499.96" cy="402.85" r="1.55" fill="#6aaa1e"/>
<circle cx="511.91" cy="412.07" r="1.55" fill="#6aaa1e"/>
<circle cx="523.85" cy="421.98" r="1.55" fill="#6aaa1e"/>
<circle cx="535.80" cy="430.60" r="1.55" fill="#6aaa1e"/>
<polyline points="308.80,267.49 320.75,288.84 332.69,294.39 344.64,299.08 356.59,304.21 368.54,309.33 380.48,314.46 392.43,320.01 404.38,326.41 416.33,333.67 428.27,341.78 440.22,349.90 452.17,358.44 464.12,367.40 476.06,376.80 488.01,387.05 499.96,397.72 511.91,408.23 523.85,420.27 535.80,430.60" fill="none" stroke="#ff2d78" stroke-width="1.15" stroke-linejoin="round"/>
<circle cx="308.80" cy="267.49" r="1.55" fill="#ff2d78"/>
<circle cx="320.75" cy="288.84" r="1.55" fill="#ff2d78"/>
<circle cx="332.69" cy="294.39" r="1.55" fill="#ff2d78"/>
<circle cx="344.64" cy="299.08" r="1.55" fill="#ff2d78"/>
<circle cx="356.59" cy="304.21" r="1.55" fill="#ff2d78"/>
<circle cx="368.54" cy="309.33" r="1.55" fill="#ff2d78"/>
<circle cx="380.48" cy="314.46" r="1.55" fill="#ff2d78"/>
<circle cx="392.43" cy="320.01" r="1.55" fill="#ff2d78"/>
<circle cx="404.38" cy="326.41" r="1.55" fill="#ff2d78"/>
<circle cx="416.33" cy="333.67" r="1.55" fill="#ff2d78"/>
<circle cx="428.27" cy="341.78" r="1.55" fill="#ff2d78"/>
<circle cx="440.22" cy="349.90" r="1.55" fill="#ff2d78"/>
<circle cx="452.17" cy="358.44" r="1.55" fill="#ff2d78"/>
<circle cx="464.12" cy="367.40" r="1.55" fill="#ff2d78"/>
<circle cx="476.06" cy="376.80" r="1.55" fill="#ff2d78"/>
<circle cx="488.01" cy="387.05" r="1.55" fill="#ff2d78"/>
<circle cx="499.96" cy="397.72" r="1.55" fill="#ff2d78"/>
<circle cx="511.91" cy="408.23" r="1.55" fill="#ff2d78"/>
<circle cx="523.85" cy="420.27" r="1.55" fill="#ff2d78"/>
<circle cx="535.80" cy="430.60" r="1.55" fill="#ff2d78"/>
</g>
<line x1="308.80" y1="259.30" x2="308.80" y2="439.74" stroke="#8c8c8c" stroke-width="0.9"/>
<line x1="308.20" y1="439.14" x2="536.30" y2="439.14" stroke="#8c8c8c" stroke-width="0.9"/>
<line x1="308.80" y1="439.14" x2="308.80" y2="440.94" stroke="#9a9a9a" stroke-width="0.8"/>
<text x="308.80" y="448.75" font-size="8.86" text-anchor="middle">0.0</text>
<line x1="354.20" y1="439.14" x2="354.20" y2="440.94" stroke="#9a9a9a" stroke-width="0.8"/>
<text x="354.20" y="448.75" font-size="8.86" text-anchor="middle">0.2</text>
<line x1="399.60" y1="439.14" x2="399.60" y2="440.94" stroke="#9a9a9a" stroke-width="0.8"/>
<text x="399.60" y="448.75" font-size="8.86" text-anchor="middle">0.4</text>
<line x1="445.00" y1="439.14" x2="445.00" y2="440.94" stroke="#9a9a9a" stroke-width="0.8"/>
<text x="445.00" y="448.75" font-size="8.86" text-anchor="middle">0.6</text>
<line x1="490.40" y1="439.14" x2="490.40" y2="440.94" stroke="#9a9a9a" stroke-width="0.8"/>
<text x="490.40" y="448.75" font-size="8.86" text-anchor="middle">0.8</text>
<line x1="535.80" y1="439.14" x2="535.80" y2="440.94" stroke="#9a9a9a" stroke-width="0.8"/>
<text x="535.80" y="448.75" font-size="8.86" text-anchor="middle">1.0</text>
<line x1="307.00" y1="430.60" x2="308.80" y2="430.60" stroke="#9a9a9a" stroke-width="0.8"/>
<text x="306.10" y="433.50" font-size="8.86" text-anchor="end">0.60</text>
<line x1="307.00" y1="409.25" x2="308.80" y2="409.25" stroke="#9a9a9a" stroke-width="0.8"/>
<text x="306.10" y="412.15" font-size="8.86" text-anchor="end">0.65</text>
<line x1="307.00" y1="387.90" x2="308.80" y2="387.90" stroke="#9a9a9a" stroke-width="0.8"/>
<text x="306.10" y="390.80" font-size="8.86" text-anchor="end">0.70</text>
<line x1="307.00" y1="366.55" x2="308.80" y2="366.55" stroke="#9a9a9a" stroke-width="0.8"/>
<text x="306.10" y="369.45" font-size="8.86" text-anchor="end">0.75</text>
<line x1="307.00" y1="345.20" x2="308.80" y2="345.20" stroke="#9a9a9a" stroke-width="0.8"/>
<text x="306.10" y="348.10" font-size="8.86" text-anchor="end">0.80</text>
<line x1="307.00" y1="323.85" x2="308.80" y2="323.85" stroke="#9a9a9a" stroke-width="0.8"/>
<text x="306.10" y="326.75" font-size="8.86" text-anchor="end">0.85</text>
<line x1="307.00" y1="302.50" x2="308.80" y2="302.50" stroke="#9a9a9a" stroke-width="0.8"/>
<text x="306.10" y="305.40" font-size="8.86" text-anchor="end">0.90</text>
<line x1="307.00" y1="281.15" x2="308.80" y2="281.15" stroke="#9a9a9a" stroke-width="0.8"/>
<text x="306.10" y="284.05" font-size="8.86" text-anchor="end">0.95</text>
<line x1="307.00" y1="259.80" x2="308.80" y2="259.80" stroke="#9a9a9a" stroke-width="0.8"/>
<text x="306.10" y="262.70" font-size="8.86" text-anchor="end">1.00</text>
<text x="422.30" y="457.96" font-size="8.86" font-weight="bold" text-anchor="middle" fill="#111">Recall</text>
<text transform="translate(287.17,349.47) rotate(-90)" font-size="8.86" font-weight="bold" text-anchor="middle" fill="#111">Precision</text>
<rect x="487.24" y="261.60" width="46.76" height="153.60" fill="#fff" fill-opacity="0.84" stroke="#e4e4e4" stroke-width="0.6"/>
<line x1="488.94" y1="268.51" x2="497.75" y2="268.51" stroke="#ff2d78" stroke-width="0.98"/>
<circle cx="493.34" cy="268.51" r="1.32" fill="#ff2d78"/>
<text x="500.55" y="269.96" font-size="8.86">DVSH</text>
<line x1="488.94" y1="278.66" x2="497.75" y2="278.66" stroke="#ff33dd" stroke-width="0.85"/>
<path d="M492.07 277.64L494.62 277.64L493.34 279.94Z" fill="#ff33dd"/>
<text x="500.55" y="280.12" font-size="8.86">DRSCH</text>
<line x1="488.94" y1="288.82" x2="497.75" y2="288.82" stroke="#ff9a2e" stroke-width="0.85"/>
<path d="M493.34 287.29L494.88 288.82L493.34 290.35L491.81 288.82Z" fill="#ff9a2e"/>
<text x="500.55" y="290.27" font-size="8.86">DSRH</text>
<line x1="488.94" y1="298.97" x2="497.75" y2="298.97" stroke="#1fbfff" stroke-width="0.89"/>
<path d="M494.50 297.52L494.50 300.42L491.90 298.97Z" fill="#1fbfff"/>
<text x="500.55" y="300.42" font-size="8.86">DNNH</text>
<line x1="488.94" y1="309.13" x2="497.75" y2="309.13" stroke="#2f7bf5" stroke-width="0.94"/>
<text x="500.55" y="310.58" font-size="8.86">CNNH+</text>
<line x1="488.94" y1="319.28" x2="497.75" y2="319.28" stroke="#b060cc" stroke-width="0.94"/>
<text x="500.55" y="320.73" font-size="8.86">DSH</text>
<line x1="488.94" y1="329.43" x2="497.75" y2="329.43" stroke="#e0104f" stroke-width="0.98"/>
<circle cx="493.34" cy="329.43" r="1.49" fill="#e0104f"/>
<text x="500.55" y="330.88" font-size="8.86">DHN</text>
<line x1="488.94" y1="339.59" x2="497.75" y2="339.59" stroke="#c79bf7" stroke-width="0.85"/>
<path d="M493.34 338.05L494.88 339.59L493.34 341.12L491.81 339.59Z" fill="#c79bf7"/>
<text x="500.55" y="341.04" font-size="8.86">IDHN</text>
<line x1="488.94" y1="349.74" x2="497.75" y2="349.74" stroke="#3a3a3a" stroke-width="0.81"/>
<circle cx="493.34" cy="349.74" r="0.94" fill="#3a3a3a"/>
<text x="500.55" y="351.19" font-size="8.86">CSQ</text>
<line x1="488.94" y1="359.89" x2="497.75" y2="359.89" stroke="#77ee66" stroke-width="0.81"/>
<circle cx="493.34" cy="359.89" r="1.11" fill="#77ee66"/>
<text x="500.55" y="361.34" font-size="8.86">ISDH</text>
<line x1="488.94" y1="370.05" x2="497.75" y2="370.05" stroke="#ffa050" stroke-width="0.89"/>
<text x="500.55" y="371.50" font-size="8.86">DSHSD</text>
<line x1="488.94" y1="380.20" x2="497.75" y2="380.20" stroke="#7a7af0" stroke-width="0.85"/>
<path d="M493.34 378.58L494.07 379.47L494.96 380.20L494.07 380.93L493.34 381.82L492.62 380.93L491.73 380.20L492.62 379.47Z" fill="#7a7af0"/>
<text x="500.55" y="381.65" font-size="8.86">SuBiC</text>
<line x1="488.94" y1="390.35" x2="497.75" y2="390.35" stroke="#f5a81e" stroke-width="1.02"/>
<text x="500.55" y="391.80" font-size="8.86">MVL</text>
<line x1="488.94" y1="400.51" x2="497.75" y2="400.51" stroke="#6aaa1e" stroke-width="0.98"/>
<circle cx="493.34" cy="400.51" r="1.32" fill="#6aaa1e"/>
<text x="500.55" y="401.96" font-size="8.86">UDHNR</text>
<line x1="488.94" y1="410.66" x2="497.75" y2="410.66" stroke="#7b92d8" stroke-width="0.81"/>
<path d="M492.07 409.64L494.62 409.64L493.34 411.94Z" fill="#7b92d8"/>
<text x="500.55" y="412.11" font-size="8.86">VTDH</text>
<text x="411.80" y="477.30" font-size="12.2" text-anchor="middle" fill="#111">(<tspan font-weight="bold">d</tspan>)</text>
</g>
</svg></body></html>
